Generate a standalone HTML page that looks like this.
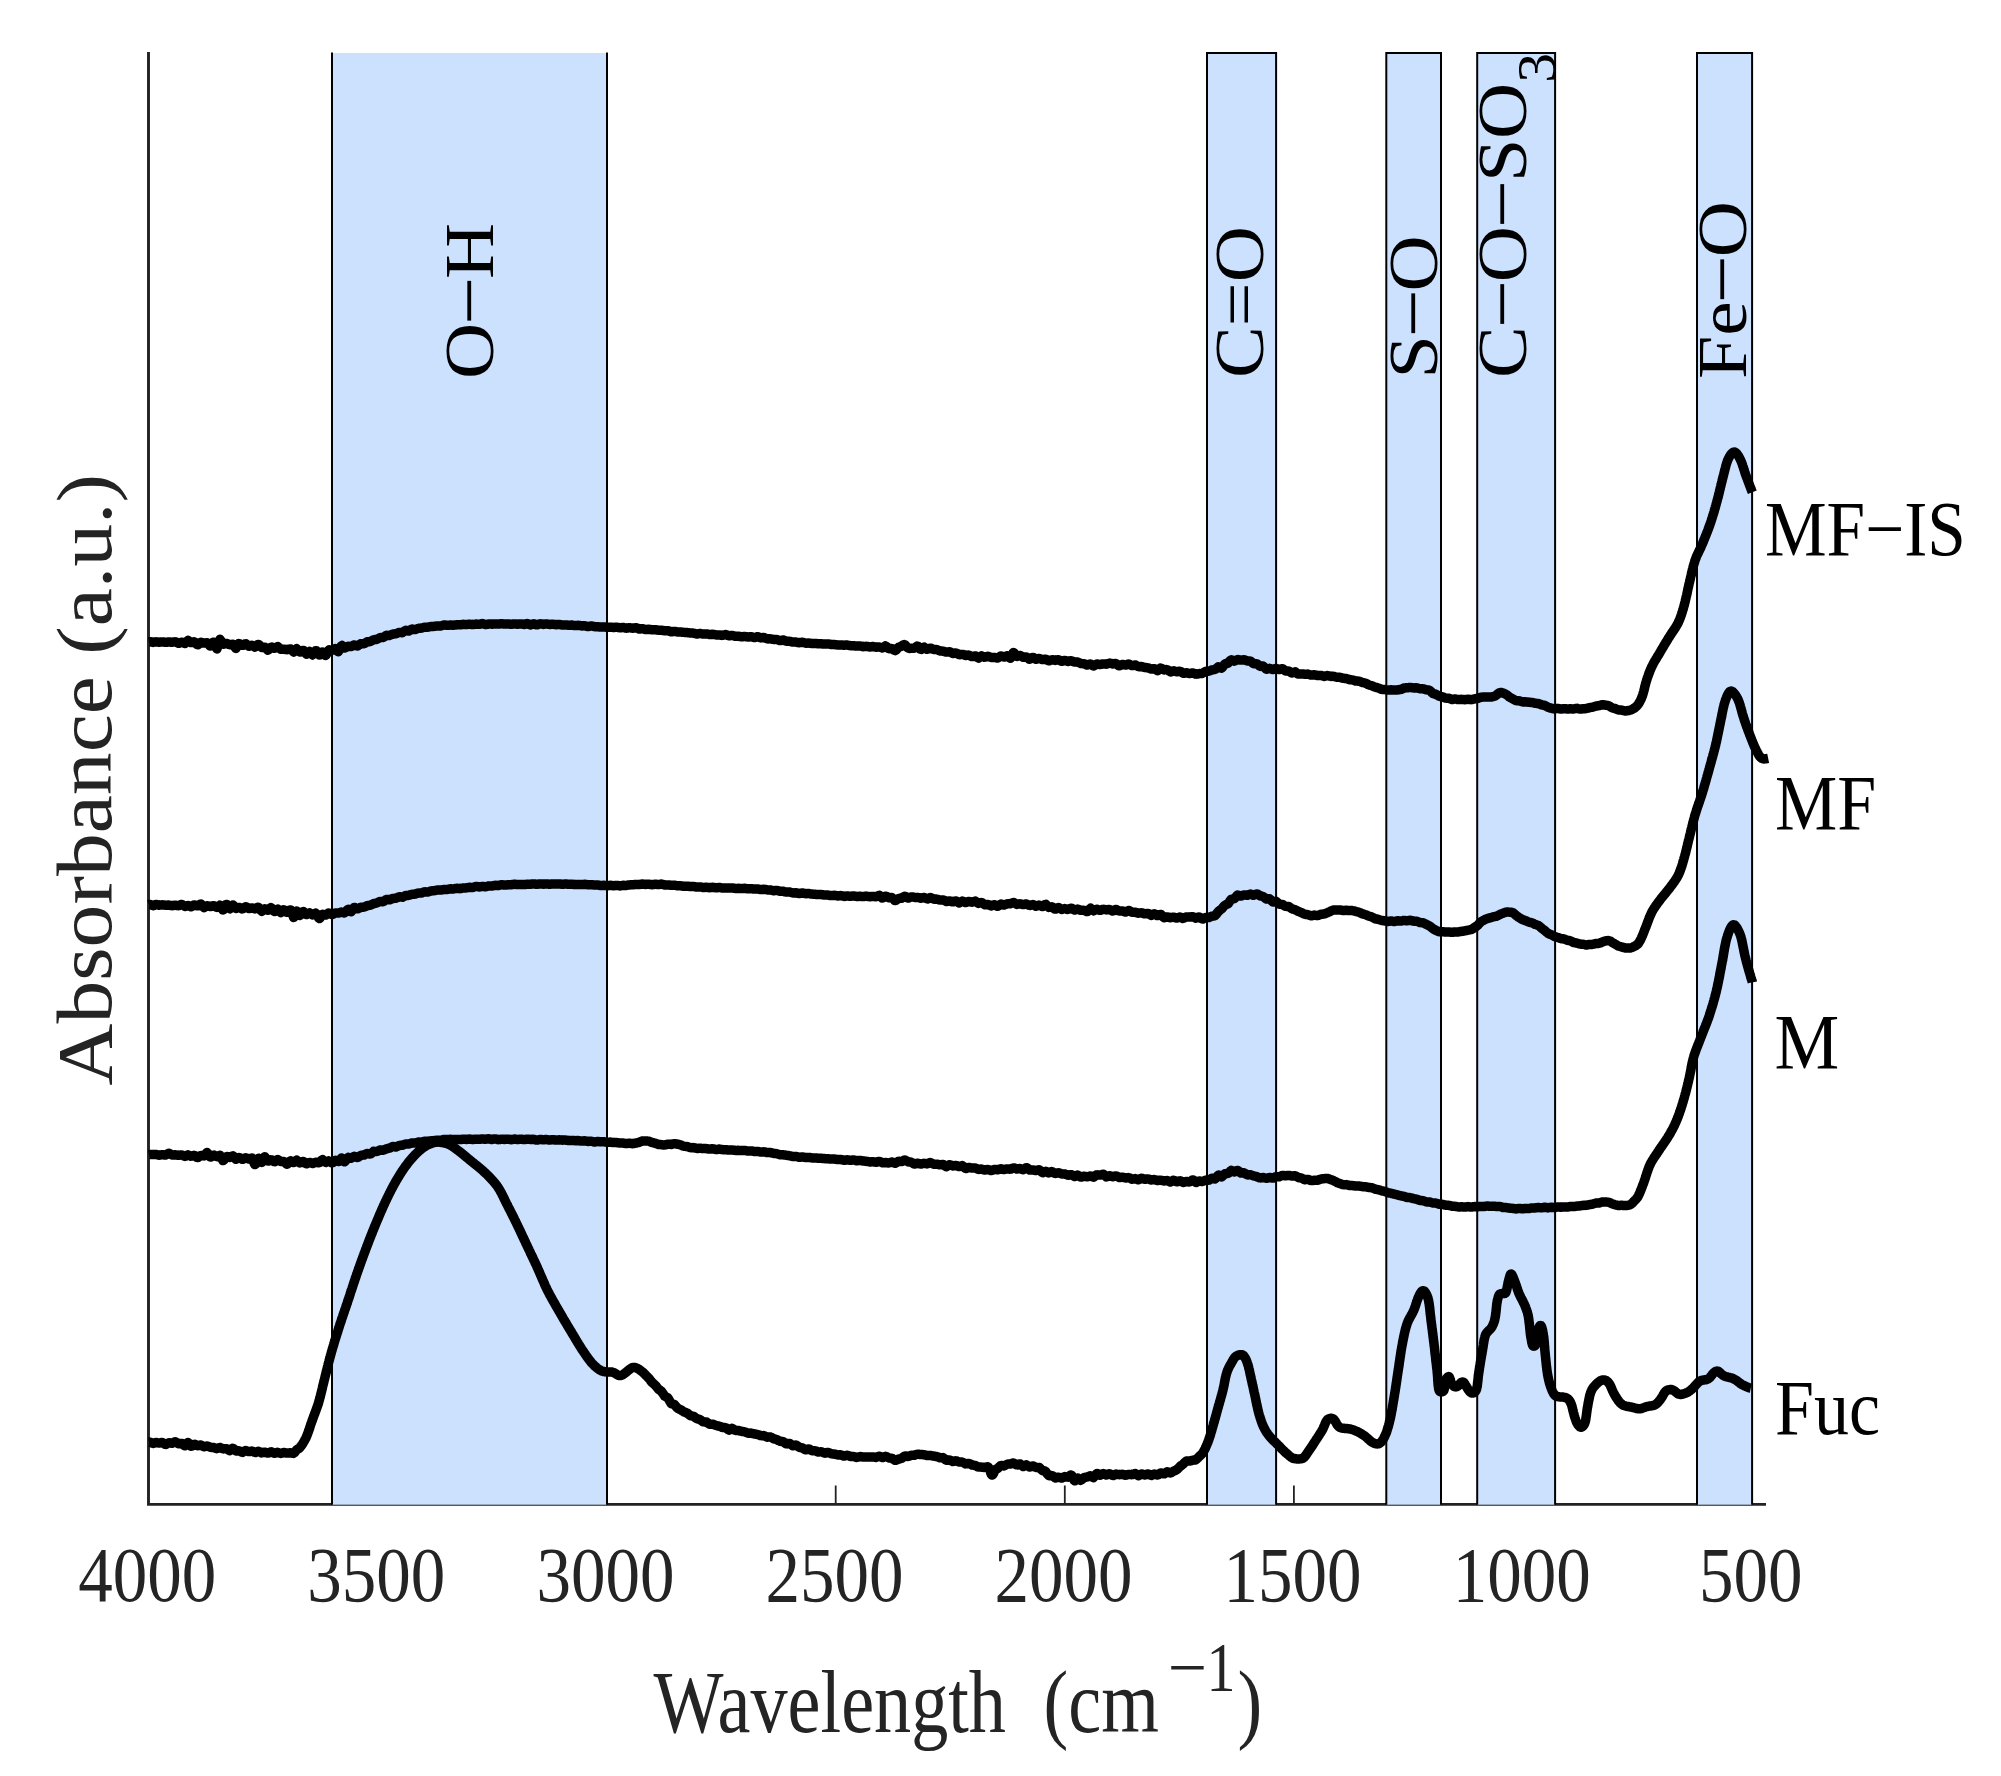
<!DOCTYPE html>
<html lang="en"><head><meta charset="utf-8"><title>FTIR spectra</title>
<style>html,body{margin:0;padding:0;background:#fff}svg{display:block}text{font-family:"Liberation Serif","Times New Roman",serif}</style></head><body>
<svg width="2001" height="1776" viewBox="0 0 2001 1776">
<rect width="2001" height="1776" fill="#fff"/>
<path d="M148.5 52V1504.4H1766" fill="none" stroke="#222" stroke-width="2.9" stroke-linejoin="miter"/>
<line x1="377.6" y1="1485.5" x2="377.6" y2="1504.4" stroke="#222" stroke-width="1.8"/>
<line x1="606.7" y1="1485.5" x2="606.7" y2="1504.4" stroke="#222" stroke-width="1.8"/>
<line x1="835.7" y1="1485.5" x2="835.7" y2="1504.4" stroke="#222" stroke-width="1.8"/>
<line x1="1064.8" y1="1485.5" x2="1064.8" y2="1504.4" stroke="#222" stroke-width="1.8"/>
<line x1="1293.9" y1="1485.5" x2="1293.9" y2="1504.4" stroke="#222" stroke-width="1.8"/>
<line x1="1523.0" y1="1485.5" x2="1523.0" y2="1504.4" stroke="#222" stroke-width="1.8"/>
<line x1="1752.1" y1="1485.5" x2="1752.1" y2="1504.4" stroke="#222" stroke-width="1.8"/>
<rect x="332.0" y="53" width="275.0" height="1451.7" fill="#cce1fe"/>
<path d="M332.0 1504.7V52.5M607.0 52.5V1504.7" fill="none" stroke="#000" stroke-width="2"/>
<rect x="1207.0" y="53" width="69.1" height="1451.7" fill="#cce1fe"/>
<path d="M1207.0 1504.7V53H1276.1V1504.7" fill="none" stroke="#000" stroke-width="2"/>
<rect x="1386.3" y="53" width="54.7" height="1451.7" fill="#cce1fe"/>
<path d="M1386.3 1504.7V53H1441.0V1504.7" fill="none" stroke="#000" stroke-width="2"/>
<rect x="1477.2" y="53" width="77.9" height="1451.7" fill="#cce1fe"/>
<path d="M1477.2 1504.7V53H1555.1V1504.7" fill="none" stroke="#000" stroke-width="2"/>
<rect x="1697.0" y="53" width="55.1" height="1451.7" fill="#cce1fe"/>
<path d="M1697.0 1504.7V53H1752.1V1504.7" fill="none" stroke="#000" stroke-width="2"/>
<g transform="scale(1 1.0)" fill="none" stroke="#000" stroke-width="9.5" stroke-linejoin="round" stroke-linecap="butt">
<path d="M148.9 641.8L149.4 641.7L150.1 641.7L151.0 641.9L152.0 642.2L153.0 642.4L154.0 642.2L155.0 642.0L156.0 641.8L157.0 642.0L158.0 642.1L159.0 642.2L160.0 642.2L161.0 642.0L162.0 641.9L163.0 641.9L164.0 642.1L165.0 642.2L166.0 642.3L167.0 642.2L168.0 642.1L169.0 642.0L170.0 642.1L171.0 642.2L172.0 642.2L173.0 642.1L174.0 642.0L175.0 641.8L176.0 642.0L177.0 642.5L178.0 643.2L179.0 643.3L180.0 642.9L181.0 642.4L182.0 642.2L183.0 642.6L184.0 643.1L185.0 643.4L186.0 642.5L187.0 641.5L188.0 640.4L189.0 641.1L190.0 641.8L191.0 642.5L192.0 642.4L193.0 642.1L194.0 641.8L195.0 642.4L196.0 643.4L197.0 644.5L198.0 644.8L199.0 643.9L200.0 642.9L201.0 642.2L202.0 642.5L203.0 642.8L204.0 643.1L205.0 643.0L206.0 642.9L207.0 642.7L208.0 643.6L209.0 644.8L210.0 646.0L211.0 645.6L212.0 643.9L213.0 642.3L214.0 642.2L215.0 644.8L216.0 647.3L217.0 648.9L218.0 645.7L219.0 642.5L220.0 639.3L221.0 640.8L222.0 642.5L223.0 644.2L224.0 644.2L225.0 643.8L226.0 643.4L227.0 643.5L228.0 644.0L229.0 644.5L230.0 644.8L231.0 644.5L232.0 644.3L233.0 644.3L233.9 645.6L234.9 647.0L235.9 648.4L236.9 646.9L237.9 645.3L238.9 643.6L239.9 643.8L240.9 644.5L241.9 645.3L242.9 645.3L243.9 644.6L244.9 644.0L245.9 643.8L246.9 644.7L247.9 645.5L248.9 646.3L249.9 645.9L250.9 645.6L251.9 645.2L252.9 645.8L253.9 646.4L254.9 647.1L255.9 646.6L256.9 645.6L257.8 644.5L258.8 644.5L259.8 645.6L260.8 646.6L261.8 647.5L262.8 647.4L263.8 647.3L264.8 647.2L265.8 648.2L266.8 649.2L267.8 650.2L268.8 649.5L269.8 648.4L270.8 647.3L271.8 647.1L272.8 647.7L273.8 648.2L274.8 648.3L275.8 647.7L276.8 647.0L277.7 646.6L278.7 647.5L279.7 648.3L280.7 649.2L281.7 649.2L282.7 649.2L283.7 649.2L284.7 649.3L285.7 649.5L286.7 649.7L287.7 649.6L288.7 649.3L289.7 649.0L290.7 649.0L291.7 650.0L292.7 651.0L293.7 651.9L294.7 650.9L295.7 649.8L296.6 648.8L297.6 649.6L298.6 650.8L299.6 651.9L300.6 651.9L301.6 651.2L302.6 650.4L303.6 650.5L304.6 651.9L305.6 653.2L306.6 654.1L307.6 653.3L308.6 652.4L309.6 651.6L310.5 652.6L311.5 653.8L312.5 654.9L313.5 654.1L314.5 652.5L315.5 650.8L316.5 650.8L317.5 652.5L318.5 654.1L319.5 655.1L320.4 654.1L321.4 653.1L322.4 652.1L323.4 653.3L324.4 654.5L325.4 655.6L326.4 654.4L327.3 652.5L328.3 650.6L329.3 649.8L330.3 650.0L331.3 650.2L332.3 650.2L333.2 649.6L334.2 649.1L335.2 648.6L336.2 649.7L337.2 650.7L338.2 651.8L339.1 650.4L340.1 648.3L341.1 646.1L342.1 645.5L343.1 646.5L344.1 647.5L345.0 648.0L346.0 647.4L347.0 646.8L348.0 646.2L348.9 646.4L349.9 646.5L350.9 646.6L351.9 646.2L352.8 645.6L353.8 645.1L354.8 645.0L355.8 645.5L356.7 645.8L357.7 645.9L358.7 645.2L359.6 644.5L360.6 643.8L361.5 643.7L362.5 643.8L363.5 643.8L364.4 643.5L365.4 643.0L366.4 642.4L367.3 641.8L368.3 641.7L369.2 641.7L370.2 641.6L371.2 641.1L372.1 640.6L373.1 640.1L374.0 639.7L375.0 639.6L376.0 639.5L376.9 639.3L377.9 638.8L378.8 638.3L379.8 637.7L380.8 637.6L381.7 637.6L382.7 637.5L383.6 637.2L384.6 636.6L385.5 635.9L386.5 635.3L387.5 635.4L388.4 635.4L389.4 635.4L390.3 635.1L391.3 634.7L392.2 634.3L393.2 634.0L394.2 633.9L395.1 633.8L396.1 633.7L397.0 633.3L398.0 632.9L399.0 632.5L399.9 632.5L400.9 632.6L401.9 632.7L402.8 632.4L403.8 631.6L404.8 630.8L405.8 630.2L406.7 630.5L407.7 630.8L408.7 631.1L409.7 630.5L410.7 629.8L411.6 629.2L412.6 629.1L413.6 629.3L414.6 629.5L415.6 629.4L416.5 629.0L417.5 628.7L418.5 628.3L419.5 628.3L420.5 628.2L421.5 628.1L422.5 627.8L423.5 627.5L424.4 627.2L425.4 627.2L426.4 627.2L427.4 627.2L428.4 627.1L429.4 626.9L430.4 626.7L431.4 626.5L432.4 626.5L433.4 626.4L434.4 626.3L435.4 626.2L436.4 626.1L437.4 625.9L438.3 625.9L439.3 626.0L440.3 626.0L441.3 625.8L442.3 625.5L443.3 625.1L444.3 624.9L445.3 625.1L446.3 625.2L447.3 625.3L448.3 625.2L449.3 625.2L450.3 625.1L451.3 625.1L452.3 625.2L453.3 625.2L454.3 625.1L455.3 625.0L456.3 624.8L457.3 624.8L458.3 624.8L459.3 624.8L460.3 624.8L461.3 624.7L462.3 624.5L463.3 624.3L464.3 624.4L465.3 624.4L466.3 624.5L467.3 624.4L468.3 624.3L469.3 624.2L470.3 624.3L471.3 624.4L472.3 624.6L473.3 624.6L474.3 624.4L475.3 624.2L476.3 624.1L477.3 624.2L478.3 624.3L479.3 624.3L480.3 624.1L481.3 623.8L482.3 623.5L483.3 623.8L484.3 624.2L485.3 624.5L486.3 624.4L487.3 624.3L488.3 624.1L489.3 624.0L490.3 624.1L491.3 624.1L492.3 624.2L493.3 624.1L494.3 624.0L495.3 624.0L496.3 624.0L497.3 624.0L498.3 624.1L499.3 624.0L500.3 623.8L501.3 623.7L502.3 623.8L503.3 623.9L504.3 624.0L505.3 624.0L506.3 624.0L507.3 624.0L508.3 624.0L509.3 624.1L510.3 624.2L511.3 624.3L512.3 624.1L513.3 624.0L514.3 623.9L515.3 624.0L516.3 624.1L517.3 624.2L518.3 624.2L519.3 624.0L520.3 623.9L521.3 623.9L522.3 624.1L523.3 624.3L524.3 624.4L525.3 624.1L526.3 623.8L527.3 623.5L528.3 624.0L529.3 624.5L530.3 624.9L531.3 624.6L532.3 624.2L533.3 623.8L534.3 624.0L535.3 624.4L536.3 624.8L537.3 624.8L538.3 624.4L539.3 624.0L540.3 623.7L541.3 624.0L542.3 624.2L543.3 624.4L544.3 624.2L545.3 624.1L546.3 624.0L547.3 624.1L548.3 624.2L549.3 624.4L550.3 624.4L551.3 624.3L552.3 624.3L553.3 624.3L554.3 624.4L555.3 624.6L556.3 624.7L557.3 624.6L558.3 624.6L559.3 624.5L560.3 624.7L561.3 624.8L562.3 625.0L563.3 625.0L564.3 625.0L565.3 624.9L566.3 625.0L567.3 625.1L568.3 625.2L569.3 625.2L570.3 625.2L571.3 625.1L572.3 625.1L573.3 625.3L574.3 625.5L575.3 625.6L576.3 625.5L577.3 625.4L578.3 625.3L579.3 625.5L580.3 625.6L581.3 625.8L582.3 625.9L583.3 625.8L584.3 625.8L585.3 625.9L586.3 626.2L587.3 626.5L588.3 626.6L589.3 626.4L590.3 626.2L591.3 626.0L592.3 626.2L593.3 626.4L594.3 626.6L595.3 626.7L596.3 626.7L597.3 626.7L598.2 626.8L599.2 626.9L600.2 627.0L601.2 627.1L602.2 627.0L603.2 627.0L604.2 627.0L605.2 627.1L606.2 627.2L607.2 627.2L608.2 627.2L609.2 627.2L610.2 627.2L611.2 627.3L612.2 627.3L613.2 627.4L614.2 627.4L615.2 627.3L616.2 627.2L617.2 627.2L618.2 627.5L619.2 627.7L620.2 627.8L621.2 627.7L622.2 627.6L623.2 627.5L624.2 627.7L625.2 628.0L626.2 628.2L627.2 628.1L628.2 627.9L629.2 627.7L630.2 627.7L631.2 628.0L632.2 628.2L633.2 628.2L634.2 628.0L635.2 627.8L636.2 627.7L637.2 628.1L638.2 628.6L639.2 629.0L640.2 628.9L641.2 628.8L642.2 628.7L643.2 628.9L644.2 629.2L645.2 629.5L646.2 629.6L647.2 629.4L648.2 629.3L649.2 629.3L650.2 629.5L651.2 629.7L652.2 629.8L653.2 629.8L654.2 629.7L655.2 629.7L656.2 629.8L657.1 630.0L658.1 630.2L659.1 630.2L660.1 630.2L661.1 630.2L662.1 630.3L663.1 630.5L664.1 630.7L665.1 630.8L666.1 630.8L667.1 630.7L668.1 630.7L669.1 631.1L670.1 631.4L671.1 631.8L672.1 631.7L673.1 631.6L674.1 631.4L675.1 631.5L676.1 631.7L677.1 631.9L678.1 632.0L679.1 632.0L680.1 632.0L681.1 632.1L682.1 632.2L683.1 632.3L684.0 632.4L685.0 632.5L686.0 632.5L687.0 632.6L688.0 632.7L689.0 632.8L690.0 632.9L691.0 633.0L692.0 633.0L693.0 633.1L694.0 633.3L695.0 633.5L696.0 633.8L697.0 634.0L698.0 633.8L699.0 633.6L700.0 633.4L701.0 633.6L702.0 633.8L703.0 634.0L704.0 634.1L705.0 634.0L706.0 634.0L707.0 634.0L708.0 634.2L709.0 634.4L710.0 634.5L711.0 634.4L712.0 634.3L713.0 634.3L714.0 634.5L715.0 634.7L716.0 634.9L717.0 634.9L718.0 634.9L719.0 634.9L720.0 635.1L721.0 635.2L722.0 635.4L722.9 635.3L723.9 635.0L724.9 634.7L725.9 634.6L726.9 635.0L727.9 635.5L728.9 635.8L729.9 635.7L730.9 635.6L731.9 635.4L732.9 635.7L733.9 635.9L734.9 636.2L735.9 636.2L736.9 636.2L737.9 636.2L738.9 636.3L739.9 636.5L740.9 636.7L741.9 636.8L742.9 636.7L743.9 636.6L744.9 636.6L745.9 636.7L746.9 636.8L747.9 636.9L748.9 636.9L749.9 636.8L750.9 636.7L751.9 636.9L752.9 637.2L753.9 637.5L754.9 637.5L755.9 637.2L756.9 636.8L757.9 636.7L758.9 637.1L759.9 637.5L760.9 637.9L761.8 637.8L762.8 637.6L763.8 637.5L764.8 637.9L765.8 638.3L766.8 638.7L767.8 638.9L768.8 638.8L769.8 638.8L770.8 638.9L771.8 639.1L772.8 639.3L773.8 639.4L774.8 639.4L775.8 639.4L776.7 639.4L777.7 639.8L778.7 640.2L779.7 640.6L780.7 640.5L781.7 640.3L782.7 640.0L783.7 640.1L784.7 640.5L785.7 641.0L786.7 641.3L787.7 641.3L788.7 641.3L789.6 641.3L790.6 641.5L791.6 641.8L792.6 642.0L793.6 642.1L794.6 642.1L795.6 642.1L796.6 642.2L797.6 642.5L798.6 642.7L799.6 642.7L800.6 642.5L801.6 642.3L802.6 642.2L803.6 642.5L804.6 642.8L805.6 643.2L806.6 643.2L807.5 643.1L808.5 643.1L809.5 643.2L810.5 643.3L811.5 643.4L812.5 643.5L813.5 643.4L814.5 643.4L815.5 643.4L816.5 643.6L817.5 643.7L818.5 643.8L819.5 643.8L820.5 643.8L821.5 643.8L822.5 643.9L823.5 644.0L824.5 644.1L825.5 644.1L826.5 644.0L827.5 643.9L828.5 644.0L829.5 644.2L830.5 644.4L831.5 644.6L832.5 644.6L833.5 644.6L834.5 644.6L835.5 644.7L836.5 644.8L837.5 644.9L838.5 644.9L839.5 644.9L840.5 644.9L841.5 645.0L842.5 645.1L843.5 645.2L844.5 645.2L845.5 645.1L846.5 645.1L847.5 645.1L848.5 645.3L849.5 645.5L850.5 645.7L851.5 645.7L852.5 645.7L853.5 645.7L854.5 645.8L855.5 646.0L856.5 646.1L857.5 646.1L858.5 646.0L859.5 645.9L860.5 646.0L861.5 646.3L862.5 646.6L863.5 646.7L864.5 646.5L865.5 646.4L866.5 646.3L867.5 646.5L868.5 646.7L869.5 647.0L870.5 646.9L871.5 646.7L872.5 646.6L873.5 646.6L874.5 646.8L875.5 647.1L876.5 647.2L877.5 647.1L878.5 647.1L879.5 647.1L880.5 647.3L881.5 647.6L882.4 647.9L883.4 647.3L884.4 646.6L885.4 645.9L886.4 646.4L887.4 647.4L888.4 648.4L889.4 648.7L890.4 648.6L891.4 648.6L892.4 648.9L893.4 649.6L894.3 650.2L895.3 650.6L896.2 649.9L897.1 649.0L897.9 647.9L898.7 647.2L899.5 646.9L900.4 646.5L901.2 646.3L901.9 645.9L902.7 645.2L903.5 644.8L904.3 644.6L905.1 644.9L905.9 645.9L906.7 646.8L907.5 647.7L908.4 648.2L909.3 648.4L910.2 648.4L911.1 648.3L912.1 648.3L913.1 648.3L914.1 648.3L915.1 647.7L916.1 646.9L917.2 646.1L918.2 646.5L919.2 647.7L920.2 649.0L921.2 649.4L922.2 648.5L923.2 647.7L924.2 647.1L925.2 647.9L926.1 648.6L927.1 649.3L928.1 649.0L929.1 648.6L930.1 648.2L931.1 648.3L932.1 648.8L933.0 649.2L934.0 649.5L935.0 649.5L936.0 649.6L937.0 649.7L938.0 650.1L938.9 650.5L939.9 650.9L940.9 651.0L941.9 651.1L942.9 651.2L943.9 651.4L944.9 651.7L945.8 652.0L946.8 652.1L947.8 652.0L948.8 651.8L949.8 651.8L950.8 652.3L951.8 652.9L952.8 653.5L953.8 653.3L954.7 653.1L955.7 653.0L956.7 653.3L957.7 653.9L958.7 654.5L959.7 654.7L960.7 654.6L961.7 654.4L962.7 654.4L963.7 654.7L964.7 655.1L965.7 655.4L966.7 655.3L967.6 655.2L968.6 655.1L969.6 655.5L970.6 656.1L971.6 656.6L972.6 656.6L973.6 656.3L974.6 655.9L975.6 656.0L976.6 656.8L977.6 657.6L978.6 658.1L979.6 657.4L980.6 656.7L981.6 655.9L982.6 656.3L983.5 656.7L984.5 657.2L985.5 657.0L986.5 656.7L987.5 656.3L988.5 656.4L989.5 656.8L990.5 657.2L991.5 657.5L992.5 657.5L993.5 657.4L994.5 657.4L995.5 657.6L996.5 657.8L997.5 658.0L998.5 657.5L999.5 656.8L1000.5 656.1L1001.5 656.1L1002.5 656.5L1003.5 656.9L1004.4 656.9L1005.4 656.4L1006.4 655.9L1007.4 655.8L1008.4 656.6L1009.4 657.5L1010.4 658.3L1011.4 656.3L1012.4 654.4L1013.4 652.4L1014.4 653.2L1015.4 654.6L1016.4 656.1L1017.4 656.4L1018.4 656.0L1019.4 655.6L1020.4 655.6L1021.4 656.2L1022.4 656.8L1023.3 657.3L1024.3 657.2L1025.3 657.0L1026.3 656.9L1027.3 657.6L1028.3 658.4L1029.3 659.2L1030.3 658.9L1031.3 658.2L1032.3 657.5L1033.3 657.5L1034.3 658.2L1035.3 658.9L1036.2 659.3L1037.2 659.0L1038.2 658.7L1039.2 658.4L1040.2 658.8L1041.2 659.2L1042.2 659.6L1043.2 659.5L1044.2 659.3L1045.2 659.2L1046.2 659.4L1047.2 660.0L1048.2 660.6L1049.2 660.8L1050.2 660.4L1051.2 660.0L1052.2 659.7L1053.2 659.9L1054.2 660.2L1055.2 660.4L1056.2 660.2L1057.2 659.9L1058.2 659.7L1059.2 660.1L1060.2 660.6L1061.2 661.2L1062.2 661.2L1063.2 660.9L1064.2 660.6L1065.2 660.5L1066.2 660.8L1067.1 661.2L1068.1 661.5L1069.1 661.2L1070.1 660.9L1071.1 660.7L1072.1 661.0L1073.1 661.5L1074.1 661.9L1075.0 662.1L1076.0 662.0L1077.0 662.0L1078.0 662.2L1079.0 662.7L1080.0 663.1L1081.0 663.5L1081.9 663.6L1082.9 663.7L1083.9 663.7L1084.9 664.1L1085.9 664.6L1086.9 665.0L1087.9 664.8L1088.9 664.5L1089.9 664.0L1090.8 664.1L1091.8 664.9L1092.8 665.6L1093.8 665.9L1094.8 665.3L1095.8 664.6L1096.8 664.0L1097.8 664.2L1098.8 664.4L1099.8 664.6L1100.8 664.4L1101.8 664.1L1102.8 663.9L1103.8 663.9L1104.8 664.0L1105.8 664.2L1106.8 664.1L1107.8 663.7L1108.8 663.3L1109.8 663.1L1110.8 663.3L1111.8 663.6L1112.8 663.9L1113.8 663.8L1114.8 663.6L1115.8 663.5L1116.8 664.1L1117.8 665.0L1118.8 665.8L1119.8 665.8L1120.8 665.2L1121.8 664.7L1122.8 664.5L1123.8 664.7L1124.8 664.9L1125.8 665.1L1126.7 664.7L1127.7 664.4L1128.7 664.0L1129.7 664.5L1130.7 665.1L1131.7 665.6L1132.7 665.6L1133.7 665.3L1134.7 665.0L1135.7 665.1L1136.7 665.7L1137.7 666.3L1138.7 666.7L1139.7 666.7L1140.7 666.6L1141.6 666.6L1142.6 666.9L1143.6 667.2L1144.6 667.5L1145.6 667.6L1146.6 667.7L1147.6 667.7L1148.6 668.0L1149.6 668.4L1150.6 668.8L1151.6 669.0L1152.6 668.9L1153.6 668.7L1154.6 668.7L1155.6 669.4L1156.5 670.0L1157.5 670.7L1158.5 669.9L1159.5 669.0L1160.5 668.1L1161.5 668.3L1162.5 669.0L1163.5 669.6L1164.5 669.9L1165.5 669.7L1166.5 669.6L1167.6 669.8L1168.6 670.5L1169.6 671.3L1170.6 671.9L1171.6 671.6L1172.6 671.2L1173.6 670.8L1174.6 671.1L1175.6 671.5L1176.6 671.8L1177.6 671.7L1178.6 671.4L1179.6 671.2L1180.6 671.5L1181.6 672.2L1182.6 672.9L1183.6 673.3L1184.6 673.1L1185.6 672.9L1186.6 672.8L1187.5 673.1L1188.5 673.3L1189.5 673.6L1190.5 673.4L1191.5 673.1L1192.5 672.9L1193.5 673.1L1194.4 673.6L1195.4 674.0L1196.4 674.2L1197.4 674.0L1198.3 673.8L1199.3 673.6L1200.3 673.6L1201.2 673.5L1202.2 673.4L1203.1 672.9L1204.1 672.3L1205.0 671.7L1206.0 671.2L1206.9 671.2L1207.9 671.2L1208.8 671.2L1209.8 670.8L1210.8 670.4L1211.7 670.0L1212.7 669.8L1213.7 669.6L1214.6 669.5L1215.6 669.0L1216.6 668.3L1217.5 667.5L1218.4 666.8L1219.4 667.3L1220.3 667.8L1221.2 668.2L1222.0 667.8L1222.9 666.7L1223.7 665.5L1224.6 664.3L1225.4 663.8L1226.2 663.5L1227.1 663.3L1227.9 663.2L1228.8 662.2L1229.6 661.2L1230.5 660.3L1231.4 659.8L1232.3 660.2L1233.2 660.6L1234.2 661.2L1235.2 660.8L1236.2 660.3L1237.2 659.7L1238.2 659.6L1239.2 659.8L1240.2 660.1L1241.2 660.1L1242.2 660.0L1243.2 659.8L1244.2 659.8L1245.2 660.1L1246.1 660.5L1247.1 660.9L1248.1 660.9L1249.0 661.0L1250.0 661.0L1250.9 661.5L1251.9 662.3L1252.8 663.1L1253.8 663.7L1254.7 663.7L1255.6 663.7L1256.6 663.7L1257.5 664.2L1258.4 665.0L1259.3 665.8L1260.2 666.4L1261.1 666.3L1262.0 666.2L1262.9 666.0L1263.8 666.7L1264.7 667.7L1265.7 668.7L1266.6 669.3L1267.6 669.0L1268.6 668.7L1269.6 668.3L1270.6 668.7L1271.6 669.1L1272.6 669.5L1273.6 669.3L1274.6 668.9L1275.6 668.5L1276.6 668.6L1277.6 669.0L1278.6 669.4L1279.6 669.5L1280.5 669.2L1281.5 668.9L1282.5 668.7L1283.5 669.4L1284.4 670.2L1285.4 670.9L1286.3 671.1L1287.3 671.1L1288.3 671.0L1289.2 671.3L1290.2 672.0L1291.2 672.6L1292.2 673.0L1293.1 672.6L1294.1 672.2L1295.1 671.8L1296.1 672.6L1297.1 673.3L1298.1 674.0L1299.1 674.1L1300.1 674.0L1301.0 673.9L1302.0 673.9L1303.0 674.0L1304.0 674.2L1305.0 674.2L1306.0 674.2L1307.0 674.2L1308.0 674.1L1309.0 674.5L1310.0 674.8L1311.0 675.1L1312.0 675.0L1313.0 674.9L1314.0 674.8L1315.0 674.9L1316.0 675.1L1317.0 675.4L1318.0 675.5L1319.0 675.4L1320.0 675.4L1321.0 675.4L1322.0 675.7L1323.0 676.0L1324.0 676.4L1325.0 676.1L1326.0 675.8L1327.0 675.6L1328.0 675.7L1329.0 676.0L1330.0 676.2L1330.9 676.4L1331.9 676.3L1332.9 676.3L1333.9 676.4L1334.9 676.7L1335.9 677.0L1336.9 677.3L1337.9 677.3L1338.9 677.3L1339.8 677.3L1340.8 677.6L1341.8 677.9L1342.8 678.2L1343.8 678.3L1344.8 678.4L1345.8 678.5L1346.7 678.7L1347.7 679.0L1348.7 679.4L1349.7 679.7L1350.7 679.8L1351.6 679.9L1352.6 680.0L1353.6 680.3L1354.6 680.6L1355.5 680.9L1356.5 681.0L1357.5 681.1L1358.5 681.2L1359.4 681.3L1360.4 681.7L1361.4 682.1L1362.3 682.5L1363.3 682.7L1364.3 682.9L1365.2 683.1L1366.2 683.5L1367.2 684.0L1368.1 684.5L1369.1 684.9L1370.0 685.2L1371.0 685.5L1371.9 685.8L1372.9 686.2L1373.8 686.6L1374.8 687.0L1375.7 687.3L1376.7 687.5L1377.6 687.8L1378.6 688.1L1379.5 688.5L1380.5 688.9L1381.4 689.3L1382.4 689.4L1383.4 689.5L1384.3 689.5L1385.3 689.7L1386.3 689.9L1387.3 690.0L1388.3 690.1L1389.2 690.0L1390.2 689.9L1391.2 689.8L1392.2 689.9L1393.2 689.9L1394.3 690.0L1395.3 690.0L1396.2 689.9L1397.2 689.9L1398.2 689.8L1399.2 689.7L1400.2 689.5L1401.2 689.3L1402.1 688.9L1403.1 688.4L1404.1 688.0L1405.1 687.9L1406.0 687.8L1407.0 687.8L1408.0 687.7L1409.0 687.6L1410.0 687.5L1411.0 687.6L1412.0 687.7L1413.0 687.8L1414.0 687.9L1415.0 687.9L1416.0 687.8L1417.0 687.9L1418.0 688.2L1419.0 688.5L1420.0 688.8L1421.0 688.8L1422.0 688.8L1422.9 688.8L1423.9 689.0L1424.9 689.3L1425.8 689.7L1426.7 689.9L1427.6 690.0L1428.6 690.1L1429.5 690.2L1430.4 691.0L1431.3 691.9L1432.1 692.8L1433.0 693.5L1433.9 693.8L1434.8 694.0L1435.7 694.2L1436.6 694.7L1437.5 695.3L1438.5 695.9L1439.4 696.4L1440.3 696.5L1441.3 696.7L1442.2 696.8L1443.2 697.1L1444.2 697.6L1445.1 698.0L1446.1 698.2L1447.1 698.2L1448.1 698.2L1449.1 698.3L1450.1 698.7L1451.1 699.2L1452.1 699.6L1453.0 699.4L1454.0 699.2L1455.0 699.0L1456.0 699.2L1457.0 699.4L1458.0 699.5L1459.0 699.6L1460.0 699.5L1461.0 699.3L1462.0 699.4L1463.0 699.5L1464.1 699.7L1465.1 699.7L1466.1 699.5L1467.1 699.4L1468.1 699.2L1469.1 699.4L1470.1 699.5L1471.0 699.7L1472.0 699.5L1473.0 699.3L1474.0 699.0L1475.0 698.8L1475.9 698.7L1476.9 698.5L1477.9 698.3L1478.8 697.9L1479.8 697.6L1480.8 697.3L1481.8 697.2L1482.8 697.1L1483.8 697.1L1484.8 697.0L1485.8 697.0L1486.8 697.0L1487.8 697.0L1488.8 697.0L1489.9 697.1L1490.8 697.0L1491.8 696.9L1492.7 696.7L1493.6 696.4L1494.5 696.2L1495.4 695.8L1496.2 695.3L1497.0 694.6L1497.8 693.9L1498.6 693.3L1499.4 692.8L1500.2 692.4L1501.0 692.4L1501.9 692.6L1502.7 692.9L1503.6 693.3L1504.4 693.6L1505.3 694.0L1506.1 694.4L1507.0 695.0L1507.9 695.7L1508.7 696.5L1509.6 697.2L1510.5 697.7L1511.4 698.2L1512.3 698.7L1513.2 699.2L1514.1 699.7L1515.0 700.2L1516.0 700.6L1516.9 700.7L1517.9 700.7L1518.8 700.8L1519.8 701.0L1520.8 701.3L1521.8 701.7L1522.7 701.9L1523.7 701.9L1524.7 701.8L1525.7 701.8L1526.8 702.0L1527.8 702.1L1528.8 702.3L1529.8 702.3L1530.8 702.4L1531.8 702.4L1532.8 702.7L1533.8 702.9L1534.8 703.2L1535.8 703.3L1536.8 703.4L1537.8 703.5L1538.8 703.7L1539.7 704.1L1540.7 704.4L1541.6 704.8L1542.6 705.0L1543.5 705.1L1544.5 705.4L1545.4 705.8L1546.4 706.3L1547.3 706.9L1548.2 707.4L1549.2 707.6L1550.1 707.9L1551.1 708.0L1552.0 708.4L1553.0 708.7L1554.0 708.9L1554.9 708.9L1555.9 708.7L1556.9 708.5L1557.9 708.4L1558.9 708.6L1559.9 708.9L1560.9 709.1L1561.9 708.9L1562.9 708.8L1563.9 708.7L1564.9 708.8L1565.9 708.8L1566.9 708.9L1567.9 708.9L1568.9 708.9L1569.9 708.8L1570.9 708.8L1572.0 708.9L1573.0 708.9L1574.0 708.9L1575.0 708.7L1576.0 708.5L1577.0 708.3L1578.0 708.6L1579.0 708.8L1580.0 709.1L1581.0 709.0L1582.0 708.9L1583.0 708.7L1583.9 708.7L1584.9 708.7L1585.9 708.6L1586.9 708.4L1587.8 708.2L1588.8 707.9L1589.8 707.6L1590.8 707.4L1591.7 707.3L1592.7 707.1L1593.7 706.8L1594.6 706.5L1595.6 706.2L1596.6 706.0L1597.6 705.8L1598.6 705.7L1599.6 705.5L1600.6 705.2L1601.6 704.9L1602.6 704.7L1603.6 704.8L1604.5 705.0L1605.5 705.2L1606.5 705.3L1607.4 705.4L1608.4 705.6L1609.3 706.0L1610.2 706.6L1611.2 707.2L1612.1 707.8L1613.0 708.1L1614.0 708.3L1614.9 708.5L1615.9 708.9L1616.9 709.3L1617.8 709.7L1618.8 710.0L1619.8 710.0L1620.8 710.1L1621.8 710.2L1622.8 710.4L1623.7 710.7L1624.7 710.9L1625.7 710.9L1626.7 710.8L1627.7 710.7L1628.7 710.5L1629.6 710.3L1630.6 710.0L1631.6 709.6L1632.5 709.1L1633.4 708.6L1634.2 708.1L1635.0 707.6L1635.7 707.0L1636.4 706.4L1637.1 705.7L1637.7 705.0L1638.3 704.2L1638.9 703.3L1639.4 702.4L1639.9 701.5L1640.4 700.5L1640.8 699.6L1641.3 698.7L1641.6 697.8L1642.0 696.8L1642.4 695.9L1642.7 695.0L1643.0 694.0L1643.2 693.1L1643.5 692.1L1643.8 691.1L1644.0 690.2L1644.3 689.2L1644.5 688.2L1644.7 687.2L1645.0 686.2L1645.2 685.2L1645.5 684.3L1645.7 683.3L1646.0 682.3L1646.3 681.4L1646.6 680.4L1646.9 679.5L1647.2 678.5L1647.5 677.6L1647.9 676.6L1648.2 675.7L1648.5 674.7L1648.9 673.8L1649.2 672.8L1649.6 671.9L1649.9 671.0L1650.3 670.0L1650.7 669.1L1651.1 668.2L1651.5 667.3L1651.9 666.4L1652.4 665.5L1652.8 664.6L1653.3 663.7L1653.7 662.9L1654.2 662.0L1654.7 661.1L1655.2 660.3L1655.8 659.4L1656.3 658.5L1656.8 657.7L1657.3 656.8L1657.8 656.0L1658.4 655.1L1658.9 654.2L1659.4 653.4L1659.9 652.5L1660.4 651.7L1660.9 650.8L1661.4 649.9L1661.9 649.1L1662.4 648.2L1662.9 647.4L1663.5 646.5L1664.0 645.6L1664.5 644.8L1665.0 643.9L1665.5 643.1L1666.0 642.2L1666.6 641.4L1667.1 640.5L1667.6 639.7L1668.1 638.8L1668.6 637.9L1669.2 637.1L1669.7 636.2L1670.2 635.4L1670.8 634.6L1671.3 633.7L1671.9 632.9L1672.5 632.0L1673.0 631.2L1673.6 630.4L1674.2 629.5L1674.7 628.7L1675.3 627.9L1675.8 627.0L1676.3 626.2L1676.8 625.3L1677.3 624.4L1677.8 623.6L1678.2 622.7L1678.6 621.8L1679.0 620.9L1679.4 620.0L1679.8 619.1L1680.2 618.1L1680.5 617.2L1680.8 616.3L1681.2 615.3L1681.5 614.4L1681.8 613.4L1682.1 612.5L1682.4 611.5L1682.7 610.5L1683.0 609.6L1683.3 608.6L1683.5 607.6L1683.8 606.7L1684.1 605.7L1684.3 604.7L1684.6 603.8L1684.8 602.8L1685.1 601.8L1685.3 600.9L1685.5 599.9L1685.8 598.9L1686.0 597.9L1686.2 597.0L1686.4 596.0L1686.7 595.0L1686.9 594.0L1687.1 593.1L1687.3 592.1L1687.5 591.1L1687.7 590.1L1687.9 589.1L1688.1 588.2L1688.4 587.2L1688.6 586.2L1688.8 585.2L1689.0 584.3L1689.2 583.3L1689.5 582.3L1689.7 581.3L1689.9 580.4L1690.2 579.4L1690.4 578.4L1690.6 577.4L1690.8 576.5L1691.1 575.5L1691.3 574.5L1691.5 573.5L1691.7 572.5L1692.0 571.6L1692.2 570.6L1692.4 569.6L1692.7 568.6L1692.9 567.7L1693.2 566.7L1693.5 565.7L1693.7 564.8L1694.0 563.8L1694.3 562.9L1694.6 561.9L1694.9 561.0L1695.2 560.0L1695.5 559.1L1695.9 558.2L1696.2 557.3L1696.6 556.3L1697.0 555.4L1697.4 554.5L1697.9 553.6L1698.3 552.7L1698.7 551.8L1699.2 550.9L1699.6 550.0L1700.0 549.1L1700.5 548.2L1700.9 547.3L1701.3 546.3L1701.7 545.4L1702.1 544.5L1702.5 543.6L1702.9 542.7L1703.3 541.7L1703.6 540.8L1704.0 539.9L1704.4 539.0L1704.8 538.0L1705.1 537.1L1705.5 536.2L1705.9 535.2L1706.3 534.3L1706.6 533.4L1707.0 532.5L1707.4 531.5L1707.7 530.6L1708.1 529.7L1708.4 528.7L1708.8 527.8L1709.1 526.8L1709.5 525.9L1709.8 525.0L1710.1 524.0L1710.5 523.1L1710.8 522.1L1711.1 521.2L1711.4 520.2L1711.7 519.3L1712.0 518.3L1712.3 517.4L1712.6 516.4L1712.9 515.5L1713.2 514.5L1713.5 513.6L1713.8 512.6L1714.1 511.6L1714.3 510.7L1714.6 509.7L1714.9 508.8L1715.2 507.8L1715.4 506.8L1715.7 505.9L1716.0 504.9L1716.2 503.9L1716.5 503.0L1716.8 502.0L1717.0 501.0L1717.3 500.1L1717.5 499.1L1717.8 498.1L1718.1 497.2L1718.3 496.2L1718.6 495.2L1718.8 494.3L1719.0 493.3L1719.3 492.3L1719.5 491.4L1719.7 490.4L1720.0 489.4L1720.2 488.4L1720.4 487.5L1720.7 486.5L1720.9 485.5L1721.1 484.5L1721.4 483.6L1721.6 482.6L1721.9 481.6L1722.1 480.7L1722.3 479.7L1722.6 478.7L1722.8 477.7L1723.1 476.8L1723.3 475.8L1723.6 474.8L1723.8 473.9L1724.1 472.9L1724.3 471.9L1724.6 470.9L1724.8 469.9L1725.1 468.9L1725.3 468.0L1725.6 467.0L1725.8 466.0L1726.1 465.0L1726.4 464.0L1726.7 463.1L1727.0 462.2L1727.3 461.2L1727.7 460.3L1728.1 459.4L1728.5 458.5L1729.0 457.5L1729.5 456.6L1730.1 455.6L1730.7 454.7L1731.4 453.9L1732.1 453.1L1732.7 452.6L1733.4 452.2L1734.1 452.1L1734.8 452.1L1735.5 452.5L1736.1 453.0L1736.8 453.7L1737.4 454.5L1738.1 455.4L1738.7 456.4L1739.2 457.3L1739.7 458.3L1740.2 459.2L1740.6 460.1L1741.0 461.0L1741.4 461.9L1741.8 462.9L1742.1 463.8L1742.4 464.7L1742.7 465.7L1743.1 466.7L1743.4 467.6L1743.7 468.6L1744.0 469.6L1744.3 470.5L1744.6 471.5L1744.9 472.5L1745.2 473.4L1745.5 474.4L1745.9 475.3L1746.2 476.2L1746.6 477.2L1746.9 478.1L1747.3 479.1L1747.6 480.0L1748.0 480.9L1748.3 481.9L1748.7 482.8L1749.0 483.7L1749.4 484.7L1749.7 485.6L1750.1 486.5L1750.5 487.5L1750.8 488.4L1751.2 489.3L1751.5 490.3L1751.8 491.1L1752.1 491.7L1752.3 492.2"/>
<path d="M148.9 904.6L149.4 904.4L150.1 904.5L151.0 904.8L152.0 905.3L153.0 905.7L154.0 905.4L155.0 904.9L156.0 904.5L157.0 904.7L158.0 904.9L159.0 905.2L160.0 905.1L161.0 905.0L162.0 904.8L163.0 904.9L164.0 905.0L165.0 905.2L166.0 905.2L167.0 905.2L168.0 905.1L169.0 905.1L170.0 905.3L171.0 905.5L172.0 905.7L173.0 905.6L174.0 905.4L175.0 905.2L176.0 905.3L177.0 905.5L178.0 905.7L179.0 905.6L180.0 905.2L181.0 904.6L182.0 904.5L183.0 905.1L184.0 905.8L185.0 906.4L186.0 906.1L187.0 905.8L188.0 905.5L189.0 905.9L190.0 906.4L191.0 906.8L192.0 906.4L193.0 905.7L194.0 905.0L195.0 904.9L196.0 905.4L197.0 905.8L198.0 905.8L199.0 905.1L200.0 904.4L201.0 904.1L202.0 905.3L203.0 906.5L204.0 907.6L205.0 907.0L206.0 906.4L207.0 905.8L208.0 905.9L209.0 906.2L210.0 906.5L211.0 906.4L212.0 906.1L213.0 905.7L214.0 905.7L215.0 906.4L216.0 907.0L217.0 907.4L218.0 906.6L219.0 905.9L220.0 905.1L221.0 906.7L222.0 908.3L223.0 910.0L224.0 908.7L225.0 906.6L226.0 904.5L227.0 904.6L228.0 906.4L229.0 908.3L230.0 908.8L231.0 907.4L232.0 906.0L233.0 905.0L234.0 906.1L235.0 907.3L236.0 908.4L237.0 908.1L238.0 907.7L239.0 907.4L240.0 907.7L241.0 908.3L242.0 908.9L242.9 908.7L243.9 907.9L244.9 907.1L245.9 906.7L246.9 907.4L247.9 908.0L248.9 908.5L249.9 908.3L250.9 908.1L251.9 907.9L252.9 908.2L253.9 908.5L254.9 908.9L255.9 908.5L256.9 907.9L257.9 907.2L258.9 907.6L259.9 909.0L260.9 910.4L261.9 911.2L262.9 910.3L263.9 909.5L264.9 908.8L265.9 909.3L266.9 909.8L267.9 910.3L268.9 909.5L269.8 908.6L270.8 907.6L271.8 908.2L272.8 909.6L273.8 911.1L274.8 911.5L275.8 910.6L276.8 909.7L277.8 909.1L278.8 910.3L279.8 911.5L280.8 912.6L281.8 911.8L282.7 910.8L283.7 909.8L284.7 910.3L285.7 911.3L286.7 912.3L287.7 912.3L288.7 911.1L289.7 910.0L290.7 910.0L291.7 912.6L292.7 915.2L293.7 917.5L294.7 915.4L295.7 913.2L296.7 911.1L297.7 912.2L298.7 913.8L299.7 915.3L300.6 914.9L301.6 913.4L302.6 911.9L303.6 911.6L304.6 912.7L305.6 913.8L306.6 914.5L307.6 914.0L308.6 913.4L309.6 912.8L310.6 913.5L311.6 914.2L312.6 914.9L313.6 914.5L314.6 913.8L315.6 913.2L316.6 914.0L317.6 915.9L318.6 917.8L319.6 918.5L320.6 917.0L321.6 915.5L322.6 914.3L323.6 914.6L324.6 914.8L325.6 915.1L326.6 914.5L327.6 913.8L328.5 913.1L329.5 913.4L330.5 913.9L331.5 914.5L332.5 914.4L333.5 913.9L334.5 913.3L335.5 912.9L336.5 913.0L337.5 913.0L338.5 913.1L339.5 912.7L340.4 912.4L341.4 912.1L342.4 912.3L343.4 912.6L344.3 912.9L345.3 912.3L346.3 911.0L347.3 909.9L348.2 909.4L349.2 910.3L350.2 911.2L351.1 911.8L352.1 910.3L353.1 908.8L354.0 907.6L355.0 907.6L356.0 908.3L356.9 908.7L357.9 908.8L358.9 908.3L359.8 907.8L360.8 907.3L361.8 907.3L362.7 907.2L363.7 907.2L364.7 906.8L365.6 906.4L366.6 905.9L367.6 905.6L368.5 905.4L369.5 905.3L370.5 905.1L371.4 904.7L372.4 904.2L373.4 903.7L374.3 903.5L375.3 903.3L376.3 903.1L377.2 902.8L378.2 902.3L379.2 901.8L380.1 901.4L381.1 901.5L382.0 901.7L383.0 901.8L384.0 901.2L384.9 900.5L385.9 899.7L386.9 899.4L387.9 899.5L388.8 899.7L389.8 899.8L390.8 899.4L391.7 898.9L392.7 898.5L393.7 898.4L394.6 898.3L395.6 898.3L396.6 897.9L397.6 897.5L398.5 897.0L399.5 896.7L400.5 896.8L401.4 897.0L402.4 897.2L403.4 896.7L404.4 896.2L405.3 895.7L406.3 895.5L407.3 895.5L408.3 895.4L409.2 895.2L410.2 894.9L411.2 894.5L412.2 894.2L413.2 894.2L414.1 894.2L415.1 894.1L416.1 893.8L417.1 893.4L418.1 893.1L419.0 893.0L420.0 893.0L421.0 893.0L422.0 892.8L423.0 892.4L424.0 892.0L425.0 891.8L426.0 891.9L427.0 891.9L427.9 892.0L428.9 891.7L429.9 891.3L430.9 891.0L431.9 890.8L432.9 890.8L433.9 890.7L434.9 890.6L435.9 890.4L436.9 890.2L437.9 890.0L438.9 890.0L439.8 890.0L440.8 890.0L441.8 889.9L442.8 889.7L443.8 889.6L444.8 889.5L445.8 889.5L446.8 889.5L447.8 889.3L448.8 889.1L449.8 888.9L450.8 888.8L451.8 888.9L452.8 888.9L453.8 888.9L454.8 888.7L455.8 888.5L456.8 888.2L457.8 888.4L458.8 888.5L459.8 888.7L460.8 888.5L461.8 888.3L462.8 888.0L463.8 887.9L464.8 887.9L465.7 887.9L466.7 887.8L467.7 887.6L468.7 887.4L469.7 887.3L470.7 887.4L471.7 887.4L472.7 887.5L473.7 887.2L474.7 886.8L475.7 886.5L476.7 886.5L477.7 886.7L478.7 886.9L479.7 886.9L480.7 886.7L481.7 886.6L482.7 886.5L483.7 886.6L484.7 886.7L485.7 886.8L486.7 886.5L487.7 886.2L488.7 885.9L489.7 885.9L490.7 886.0L491.7 886.0L492.7 885.9L493.7 885.7L494.7 885.4L495.7 885.3L496.7 885.4L497.7 885.4L498.7 885.4L499.7 885.1L500.7 884.9L501.7 884.7L502.7 884.8L503.7 885.0L504.7 885.1L505.7 885.0L506.7 884.9L507.7 884.8L508.6 884.7L509.6 884.8L510.6 884.8L511.6 884.7L512.6 884.5L513.6 884.3L514.6 884.2L515.6 884.3L516.6 884.5L517.6 884.6L518.6 884.6L519.6 884.5L520.6 884.4L521.6 884.4L522.6 884.5L523.6 884.5L524.6 884.5L525.6 884.4L526.6 884.3L527.6 884.2L528.6 884.2L529.6 884.2L530.6 884.2L531.6 884.1L532.6 884.0L533.6 883.9L534.6 884.0L535.6 884.2L536.6 884.3L537.6 884.2L538.6 884.1L539.6 883.9L540.6 884.0L541.6 884.0L542.6 884.1L543.6 884.2L544.6 884.1L545.6 884.0L546.6 883.9L547.6 884.0L548.6 884.2L549.6 884.3L550.6 884.2L551.6 884.0L552.6 883.9L553.6 883.9L554.6 884.0L555.6 884.0L556.6 884.0L557.6 884.0L558.6 883.9L559.6 883.9L560.6 884.1L561.6 884.2L562.6 884.3L563.6 884.2L564.6 884.1L565.6 884.0L566.6 884.1L567.6 884.2L568.6 884.2L569.6 884.2L570.6 884.2L571.6 884.2L572.6 884.3L573.6 884.4L574.6 884.6L575.6 884.6L576.6 884.5L577.6 884.4L578.6 884.4L579.6 884.4L580.6 884.5L581.6 884.5L582.6 884.4L583.6 884.4L584.6 884.3L585.6 884.4L586.6 884.6L587.6 884.7L588.6 884.8L589.6 884.7L590.6 884.7L591.6 884.7L592.6 884.8L593.6 884.9L594.6 885.0L595.6 885.0L596.6 885.0L597.6 885.0L598.6 885.2L599.6 885.3L600.6 885.5L601.6 885.5L602.6 885.4L603.6 885.3L604.6 885.4L605.6 885.5L606.6 885.7L607.6 885.7L608.6 885.6L609.6 885.4L610.6 885.3L611.6 885.4L612.6 885.6L613.6 885.8L614.6 885.6L615.6 885.5L616.6 885.4L617.6 885.5L618.6 885.7L619.6 885.9L620.6 885.8L621.6 885.6L622.6 885.4L623.6 885.3L624.6 885.4L625.6 885.4L626.6 885.4L627.6 885.2L628.6 885.0L629.6 884.9L630.6 884.8L631.6 884.8L632.6 884.8L633.6 884.7L634.6 884.6L635.6 884.5L636.6 884.4L637.6 884.4L638.6 884.4L639.6 884.4L640.6 884.3L641.6 884.1L642.6 884.1L643.6 884.2L644.6 884.3L645.6 884.4L646.6 884.3L647.6 884.3L648.6 884.2L649.6 884.3L650.6 884.5L651.6 884.7L652.6 884.7L653.6 884.5L654.6 884.3L655.6 884.2L656.6 884.3L657.6 884.5L658.6 884.5L659.6 884.4L660.6 884.2L661.6 884.1L662.5 884.3L663.5 884.6L664.5 884.9L665.5 885.0L666.5 885.0L667.5 885.0L668.5 885.0L669.5 885.1L670.5 885.2L671.5 885.2L672.5 885.2L673.5 885.2L674.5 885.2L675.5 885.4L676.5 885.6L677.5 885.8L678.5 885.8L679.5 885.8L680.5 885.8L681.5 885.9L682.5 886.1L683.5 886.3L684.5 886.3L685.5 886.3L686.5 886.2L687.5 886.2L688.5 886.3L689.5 886.4L690.5 886.5L691.5 886.5L692.5 886.5L693.5 886.5L694.5 886.7L695.5 886.8L696.5 887.0L697.5 887.0L698.5 887.0L699.5 886.9L700.5 887.0L701.5 887.2L702.5 887.4L703.5 887.5L704.5 887.4L705.5 887.3L706.5 887.3L707.5 887.4L708.5 887.6L709.5 887.7L710.5 887.6L711.5 887.4L712.5 887.3L713.5 887.4L714.5 887.6L715.5 887.7L716.5 887.8L717.5 887.7L718.5 887.6L719.5 887.5L720.5 887.7L721.5 887.9L722.5 888.0L723.5 888.0L724.5 888.0L725.5 887.9L726.5 888.0L727.5 888.0L728.5 888.1L729.5 888.1L730.5 888.0L731.5 888.0L732.5 888.0L733.5 888.2L734.5 888.3L735.5 888.4L736.5 888.4L737.5 888.4L738.5 888.3L739.5 888.4L740.5 888.5L741.5 888.6L742.5 888.5L743.5 888.4L744.5 888.3L745.5 888.4L746.5 888.6L747.5 888.8L748.5 888.8L749.5 888.8L750.5 888.7L751.5 888.7L752.5 888.8L753.5 889.0L754.5 889.1L755.5 889.1L756.5 889.1L757.5 889.0L758.5 889.2L759.5 889.3L760.5 889.5L761.5 889.5L762.5 889.4L763.4 889.3L764.4 889.3L765.4 889.5L766.4 889.7L767.4 889.9L768.4 889.9L769.4 889.9L770.4 889.9L771.4 890.2L772.4 890.5L773.4 890.8L774.4 890.7L775.4 890.5L776.4 890.4L777.4 890.5L778.4 890.8L779.4 891.1L780.4 891.3L781.4 891.3L782.4 891.3L783.4 891.3L784.3 891.6L785.3 891.9L786.3 892.1L787.3 892.1L788.3 892.0L789.3 892.0L790.3 892.2L791.3 892.5L792.3 892.8L793.3 892.9L794.3 892.9L795.3 892.8L796.3 892.8L797.3 893.1L798.3 893.4L799.3 893.6L800.3 893.4L801.3 893.1L802.3 892.9L803.3 893.1L804.3 893.3L805.3 893.6L806.3 893.7L807.2 893.6L808.2 893.6L809.2 893.6L810.2 893.8L811.2 894.0L812.2 894.1L813.2 894.2L814.2 894.2L815.2 894.3L816.2 894.4L817.2 894.5L818.2 894.6L819.2 894.6L820.2 894.6L821.2 894.6L822.2 894.7L823.2 894.8L824.2 895.0L825.2 895.1L826.2 895.1L827.2 895.1L828.2 895.1L829.2 895.3L830.2 895.5L831.2 895.6L832.2 895.5L833.2 895.4L834.2 895.3L835.2 895.4L836.2 895.7L837.2 895.9L838.2 895.9L839.2 895.8L840.2 895.6L841.2 895.7L842.2 895.9L843.2 896.2L844.2 896.4L845.2 896.3L846.2 896.1L847.2 896.0L848.2 896.1L849.2 896.2L850.2 896.3L851.2 896.2L852.2 896.1L853.2 896.0L854.2 896.1L855.2 896.2L856.2 896.4L857.2 896.4L858.2 896.4L859.2 896.3L860.2 896.3L861.2 896.4L862.2 896.5L863.2 896.6L864.2 896.4L865.2 896.3L866.2 896.1L867.3 896.3L868.3 896.5L869.3 896.7L870.3 896.7L871.3 896.6L872.3 896.5L873.3 896.5L874.3 896.6L875.3 896.7L876.3 896.7L877.3 896.3L878.3 895.8L879.3 895.3L880.3 896.1L881.3 897.0L882.2 898.0L883.2 897.7L884.2 897.0L885.2 896.3L886.2 896.3L887.2 896.8L888.1 897.4L889.1 897.8L890.1 897.7L891.1 897.6L892.0 897.6L893.0 898.7L894.0 899.7L894.9 900.6L895.9 900.4L896.9 899.7L897.8 898.9L898.8 898.4L899.7 898.3L900.7 898.2L901.7 898.2L902.6 897.4L903.6 896.8L904.6 896.2L905.6 896.5L906.5 897.2L907.5 897.9L908.5 898.0L909.5 897.6L910.5 897.1L911.5 896.9L912.5 897.0L913.5 897.2L914.5 897.4L915.5 897.4L916.5 897.4L917.5 897.4L918.5 897.7L919.5 897.9L920.6 898.2L921.6 898.1L922.6 897.8L923.6 897.5L924.6 897.7L925.6 898.2L926.5 898.7L927.5 898.9L928.5 898.4L929.5 897.8L930.5 897.5L931.5 898.0L932.5 898.6L933.5 899.1L934.5 899.2L935.5 899.1L936.5 899.1L937.5 899.3L938.4 899.6L939.4 899.9L940.4 900.1L941.4 900.1L942.4 900.0L943.4 900.1L944.4 900.6L945.4 901.1L946.4 901.6L947.4 901.4L948.4 901.1L949.4 900.9L950.4 901.1L951.4 901.4L952.3 901.8L953.3 901.8L954.3 901.4L955.3 901.1L956.3 901.1L957.3 901.7L958.3 902.4L959.3 902.9L960.3 902.3L961.4 901.7L962.4 901.1L963.4 901.5L964.4 902.0L965.4 902.5L966.4 902.3L967.4 901.9L968.4 901.5L969.4 901.5L970.3 901.8L971.3 902.1L972.3 902.2L973.3 901.8L974.3 901.3L975.3 901.1L976.3 901.8L977.3 902.6L978.3 903.4L979.3 903.2L980.2 902.9L981.2 902.6L982.2 902.9L983.2 903.6L984.2 904.4L985.1 904.8L986.1 904.7L987.1 904.6L988.1 904.5L989.1 905.0L990.1 905.5L991.0 905.9L992.0 905.6L993.0 905.2L994.0 904.7L995.0 904.9L996.0 905.5L997.0 906.2L998.0 906.2L999.0 905.5L1000.0 904.7L1001.0 904.1L1002.0 904.4L1003.0 904.8L1004.0 905.1L1005.0 904.7L1005.9 904.3L1006.9 903.9L1007.9 903.8L1008.9 903.8L1009.9 903.8L1010.9 903.6L1011.9 903.1L1012.9 902.7L1013.9 902.6L1014.9 903.2L1015.9 903.8L1016.9 904.4L1017.9 904.2L1018.9 904.0L1019.9 903.8L1020.9 904.0L1021.9 904.3L1022.9 904.5L1023.9 904.5L1024.9 904.2L1025.9 904.0L1026.9 904.2L1027.9 904.7L1028.9 905.2L1029.9 905.4L1030.9 905.1L1031.9 904.8L1032.9 904.6L1033.9 905.1L1034.9 905.7L1035.9 906.2L1036.9 905.9L1037.9 905.5L1038.9 905.1L1039.9 905.3L1040.9 905.9L1041.8 906.4L1042.8 906.4L1043.8 905.5L1044.8 904.7L1045.8 904.3L1046.8 905.3L1047.8 906.3L1048.8 907.4L1049.8 907.2L1050.8 907.0L1051.8 906.8L1052.8 907.4L1053.7 908.2L1054.7 909.0L1055.7 909.1L1056.7 908.5L1057.7 907.9L1058.7 907.6L1059.7 908.2L1060.7 908.8L1061.7 909.4L1062.7 909.1L1063.6 908.8L1064.6 908.6L1065.6 908.8L1066.6 909.1L1067.6 909.4L1068.6 909.2L1069.6 908.7L1070.6 908.2L1071.6 908.2L1072.6 908.9L1073.6 909.6L1074.6 910.1L1075.6 909.8L1076.6 909.5L1077.6 909.1L1078.6 909.5L1079.6 909.9L1080.6 910.3L1081.6 910.3L1082.6 910.3L1083.6 910.2L1084.6 910.5L1085.6 911.0L1086.6 911.5L1087.6 911.4L1088.6 910.2L1089.6 909.1L1090.6 908.2L1091.6 909.1L1092.6 909.9L1093.6 910.8L1094.6 910.3L1095.6 909.7L1096.6 909.2L1097.6 909.4L1098.6 909.9L1099.6 910.3L1100.5 910.3L1101.5 909.9L1102.5 909.5L1103.5 909.3L1104.5 909.5L1105.5 909.7L1106.5 909.9L1107.5 909.7L1108.5 909.6L1109.5 909.5L1110.5 910.0L1111.5 910.5L1112.5 911.0L1113.5 910.7L1114.5 910.2L1115.5 909.6L1116.5 909.6L1117.5 910.2L1118.5 910.7L1119.5 911.0L1120.5 911.0L1121.5 911.0L1122.5 911.0L1123.5 911.4L1124.5 911.7L1125.5 912.1L1126.5 911.7L1127.5 911.1L1128.5 910.5L1129.5 910.7L1130.5 911.3L1131.5 912.0L1132.4 912.3L1133.4 912.3L1134.4 912.2L1135.4 912.3L1136.4 912.6L1137.4 912.9L1138.4 913.2L1139.4 913.0L1140.4 912.9L1141.4 912.8L1142.4 913.0L1143.4 913.4L1144.3 913.8L1145.3 913.8L1146.3 913.6L1147.3 913.4L1148.3 913.4L1149.3 914.1L1150.3 914.8L1151.3 915.4L1152.3 914.8L1153.3 914.2L1154.3 913.7L1155.3 914.2L1156.2 914.8L1157.2 915.5L1158.2 915.4L1159.2 914.9L1160.2 914.5L1161.2 914.6L1162.2 915.7L1163.2 916.9L1164.2 917.8L1165.2 917.5L1166.1 917.2L1167.1 916.9L1168.1 917.2L1169.1 917.4L1170.1 917.7L1171.1 917.6L1172.1 917.4L1173.1 917.2L1174.1 917.3L1175.1 917.6L1176.1 917.9L1177.1 918.0L1178.1 917.7L1179.0 917.3L1180.0 916.9L1181.0 917.4L1182.0 917.9L1183.0 918.4L1184.0 918.0L1185.0 917.5L1186.0 917.0L1187.0 916.9L1188.0 917.0L1189.0 917.1L1190.0 917.1L1191.0 916.9L1192.0 916.7L1193.0 916.7L1194.0 917.2L1195.0 917.7L1196.0 918.2L1197.0 917.8L1198.0 917.3L1198.9 916.9L1199.9 917.3L1200.9 918.1L1201.9 918.8L1202.9 918.9L1203.9 918.4L1204.9 917.9L1205.9 917.5L1206.9 917.6L1207.9 917.6L1208.8 917.5L1209.8 917.1L1210.7 916.7L1211.6 916.3L1212.5 916.0L1213.3 916.0L1214.2 915.8L1215.0 915.6L1215.7 914.9L1216.5 914.0L1217.2 913.0L1218.0 912.0L1218.7 911.1L1219.4 910.6L1220.2 910.0L1220.9 909.5L1221.6 908.9L1222.4 908.1L1223.1 907.2L1223.8 906.3L1224.6 905.5L1225.3 905.0L1226.0 904.7L1226.7 904.4L1227.5 904.1L1228.2 903.6L1229.0 902.5L1229.7 901.4L1230.5 900.3L1231.3 899.3L1232.1 899.1L1233.0 898.9L1233.8 898.8L1234.7 898.3L1235.6 897.2L1236.6 896.1L1237.5 895.0L1238.5 895.3L1239.4 895.6L1240.4 896.1L1241.4 896.0L1242.4 895.5L1243.3 895.1L1244.3 894.9L1245.3 895.0L1246.3 895.2L1247.3 895.3L1248.3 894.9L1249.3 894.5L1250.3 894.1L1251.4 894.4L1252.4 894.8L1253.3 895.3L1254.3 894.9L1255.3 894.4L1256.3 893.9L1257.2 893.9L1258.2 894.5L1259.1 895.1L1260.1 895.8L1261.0 896.0L1261.9 896.2L1262.9 896.5L1263.8 897.1L1264.7 897.8L1265.7 898.6L1266.6 899.1L1267.5 899.0L1268.5 898.8L1269.4 898.7L1270.3 899.4L1271.3 900.4L1272.2 901.4L1273.1 902.0L1274.0 901.8L1275.0 901.5L1275.9 901.3L1276.8 902.0L1277.8 902.9L1278.7 903.7L1279.6 904.3L1280.5 904.3L1281.5 904.4L1282.4 904.5L1283.3 905.0L1284.2 905.6L1285.1 906.1L1286.1 906.4L1287.0 906.5L1287.9 906.6L1288.8 906.6L1289.7 907.3L1290.7 907.9L1291.6 908.6L1292.5 909.0L1293.4 909.2L1294.4 909.5L1295.3 909.8L1296.2 910.3L1297.2 910.8L1298.1 911.3L1299.0 911.7L1300.0 912.1L1300.9 912.4L1301.8 912.8L1302.8 913.3L1303.7 913.8L1304.7 914.2L1305.6 914.4L1306.6 914.5L1307.5 914.7L1308.5 914.9L1309.5 915.3L1310.4 915.6L1311.4 915.8L1312.4 915.6L1313.4 915.4L1314.4 915.1L1315.4 915.3L1316.4 915.4L1317.4 915.5L1318.4 915.3L1319.4 914.9L1320.4 914.4L1321.4 914.2L1322.3 914.2L1323.3 914.1L1324.2 913.9L1325.2 913.6L1326.1 913.2L1327.1 912.8L1328.0 912.4L1328.9 912.0L1329.9 911.6L1330.8 911.2L1331.7 910.7L1332.7 910.3L1333.6 910.0L1334.6 909.9L1335.6 910.0L1336.5 910.0L1337.5 910.0L1338.5 910.0L1339.5 910.0L1340.5 910.1L1341.5 910.2L1342.5 910.4L1343.5 910.5L1344.6 910.4L1345.6 910.3L1346.6 910.3L1347.6 910.4L1348.6 910.5L1349.6 910.6L1350.6 910.6L1351.6 910.6L1352.5 910.6L1353.5 910.8L1354.5 911.0L1355.4 911.3L1356.4 911.6L1357.4 911.8L1358.3 912.1L1359.3 912.3L1360.2 912.8L1361.1 913.2L1362.1 913.7L1363.0 914.0L1364.0 914.2L1364.9 914.5L1365.9 914.8L1366.8 915.2L1367.8 915.7L1368.7 916.2L1369.7 916.4L1370.7 916.6L1371.6 916.9L1372.6 917.3L1373.5 917.8L1374.5 918.4L1375.4 918.8L1376.4 919.0L1377.3 919.2L1378.3 919.3L1379.3 919.7L1380.2 920.0L1381.2 920.3L1382.2 920.5L1383.1 920.7L1384.1 920.8L1385.1 920.9L1386.0 921.1L1387.0 921.3L1388.0 921.4L1389.0 921.3L1390.0 921.2L1391.0 921.0L1392.0 921.1L1393.0 921.3L1394.0 921.5L1395.0 921.4L1396.0 921.2L1397.0 920.9L1398.0 920.8L1399.0 920.9L1400.0 921.0L1401.0 921.0L1402.0 920.8L1403.0 920.6L1404.0 920.5L1405.0 920.6L1406.0 920.7L1407.0 920.8L1408.0 920.6L1409.0 920.4L1410.0 920.3L1411.0 920.4L1412.0 920.6L1413.0 921.0L1414.0 921.2L1415.0 921.2L1415.9 921.2L1416.9 921.3L1417.9 921.7L1418.9 922.1L1419.9 922.5L1420.8 922.6L1421.8 922.7L1422.8 922.8L1423.7 923.1L1424.6 923.5L1425.6 924.0L1426.5 924.5L1427.4 924.9L1428.3 925.3L1429.2 925.8L1430.1 926.4L1430.9 927.0L1431.8 927.7L1432.7 928.4L1433.5 929.0L1434.4 929.5L1435.3 930.0L1436.2 930.5L1437.1 930.9L1437.9 931.3L1438.9 931.6L1439.8 931.8L1440.7 931.8L1441.7 931.7L1442.6 931.7L1443.6 931.8L1444.6 931.9L1445.6 932.0L1446.6 932.0L1447.6 932.0L1448.6 932.0L1449.6 932.1L1450.6 932.2L1451.6 932.3L1452.6 932.3L1453.6 932.1L1454.7 932.0L1455.7 931.9L1456.7 931.9L1457.7 931.9L1458.7 931.9L1459.7 931.7L1460.7 931.5L1461.7 931.3L1462.8 931.2L1463.8 931.1L1464.8 930.9L1465.8 930.7L1466.7 930.5L1467.7 930.2L1468.6 930.1L1469.6 929.9L1470.5 929.7L1471.4 929.4L1472.2 929.0L1473.1 928.5L1473.9 927.9L1474.7 927.4L1475.5 926.9L1476.3 926.4L1477.1 925.8L1477.9 925.1L1478.7 924.2L1479.4 923.4L1480.2 922.5L1481.0 921.8L1481.8 921.3L1482.6 920.8L1483.5 920.3L1484.3 919.9L1485.2 919.4L1486.1 919.0L1487.0 918.7L1488.0 918.4L1488.9 918.2L1489.9 917.9L1490.8 917.7L1491.8 917.3L1492.8 917.0L1493.8 916.6L1494.7 916.5L1495.7 916.3L1496.7 916.2L1497.6 915.7L1498.6 915.2L1499.5 914.7L1500.5 914.2L1501.4 913.8L1502.4 913.5L1503.3 913.1L1504.3 912.7L1505.2 912.4L1506.2 912.1L1507.1 912.0L1508.0 912.0L1508.9 912.1L1509.8 912.2L1510.7 912.2L1511.6 912.3L1512.4 912.5L1513.3 913.0L1514.2 913.7L1515.0 914.5L1515.9 915.3L1516.7 915.9L1517.6 916.5L1518.4 917.1L1519.3 917.6L1520.2 918.2L1521.1 918.8L1522.0 919.3L1522.9 919.7L1523.8 920.1L1524.7 920.4L1525.7 920.7L1526.6 921.1L1527.6 921.6L1528.5 922.0L1529.5 922.3L1530.5 922.5L1531.4 922.7L1532.4 923.0L1533.3 923.4L1534.2 923.9L1535.2 924.4L1536.1 924.6L1536.9 924.9L1537.8 925.2L1538.7 925.7L1539.5 926.3L1540.3 927.0L1541.1 927.7L1541.9 928.4L1542.7 929.0L1543.4 929.5L1544.2 930.1L1545.0 930.7L1545.8 931.5L1546.6 932.2L1547.4 932.8L1548.2 933.4L1549.0 933.8L1549.8 934.2L1550.7 934.5L1551.6 934.9L1552.5 935.4L1553.4 935.9L1554.3 936.4L1555.2 936.7L1556.2 936.9L1557.1 937.2L1558.1 937.5L1559.1 937.9L1560.0 938.3L1561.0 938.7L1562.0 938.7L1563.0 938.8L1564.0 938.9L1564.9 939.3L1565.9 939.7L1566.9 940.1L1567.8 940.3L1568.8 940.5L1569.8 940.7L1570.7 941.0L1571.7 941.5L1572.7 942.0L1573.6 942.5L1574.6 942.7L1575.6 942.8L1576.5 943.0L1577.5 943.3L1578.5 943.6L1579.4 943.9L1580.4 944.1L1581.4 944.2L1582.3 944.2L1583.3 944.2L1584.3 944.5L1585.3 944.8L1586.3 945.0L1587.3 944.9L1588.3 944.7L1589.3 944.4L1590.3 944.4L1591.3 944.4L1592.3 944.4L1593.3 944.2L1594.3 944.0L1595.3 943.7L1596.3 943.5L1597.2 943.4L1598.2 943.4L1599.2 943.3L1600.2 943.0L1601.1 942.5L1602.1 942.1L1603.0 941.7L1604.0 941.4L1604.9 941.1L1605.8 940.9L1606.7 940.7L1607.6 940.6L1608.5 940.6L1609.4 940.8L1610.3 941.2L1611.2 941.7L1612.0 942.3L1612.9 942.8L1613.8 943.3L1614.6 943.8L1615.5 944.3L1616.4 944.9L1617.3 945.4L1618.3 945.9L1619.2 946.2L1620.2 946.5L1621.1 946.8L1622.1 947.1L1623.1 947.4L1624.1 947.7L1625.0 947.9L1626.0 948.0L1627.0 948.0L1628.0 948.0L1629.0 948.0L1630.0 948.0L1631.0 947.8L1632.0 947.5L1632.9 947.1L1633.9 946.6L1634.8 946.1L1635.6 945.7L1636.4 945.2L1637.1 944.7L1637.8 944.1L1638.4 943.4L1638.9 942.6L1639.4 941.8L1639.9 941.0L1640.4 940.1L1640.8 939.2L1641.3 938.3L1641.7 937.3L1642.1 936.4L1642.5 935.4L1642.9 934.4L1643.3 933.4L1643.7 932.4L1644.1 931.4L1644.4 930.5L1644.8 929.5L1645.2 928.6L1645.6 927.6L1646.0 926.7L1646.3 925.8L1646.7 924.8L1647.0 923.9L1647.4 923.0L1647.7 922.0L1648.1 921.1L1648.4 920.1L1648.8 919.2L1649.1 918.2L1649.5 917.3L1649.9 916.4L1650.3 915.5L1650.7 914.6L1651.1 913.7L1651.5 912.8L1652.0 911.9L1652.4 911.0L1652.9 910.2L1653.4 909.3L1654.0 908.5L1654.5 907.6L1655.1 906.8L1655.6 906.0L1656.2 905.1L1656.8 904.3L1657.4 903.5L1658.0 902.7L1658.6 901.9L1659.2 901.1L1659.8 900.3L1660.4 899.5L1661.0 898.7L1661.6 897.9L1662.2 897.1L1662.9 896.4L1663.5 895.6L1664.1 894.8L1664.8 894.1L1665.4 893.3L1666.1 892.5L1666.7 891.7L1667.3 891.0L1667.9 890.2L1668.6 889.4L1669.2 888.6L1669.8 887.8L1670.4 887.0L1671.0 886.2L1671.6 885.4L1672.2 884.6L1672.8 883.8L1673.4 882.9L1674.0 882.1L1674.6 881.3L1675.1 880.5L1675.7 879.6L1676.2 878.8L1676.8 877.9L1677.3 877.1L1677.7 876.2L1678.2 875.4L1678.6 874.5L1679.0 873.6L1679.4 872.7L1679.8 871.8L1680.1 870.8L1680.5 869.9L1680.8 869.0L1681.1 868.0L1681.5 867.1L1681.8 866.1L1682.1 865.1L1682.4 864.2L1682.7 863.2L1682.9 862.2L1683.2 861.3L1683.5 860.3L1683.8 859.3L1684.0 858.4L1684.3 857.4L1684.6 856.4L1684.8 855.5L1685.1 854.5L1685.4 853.6L1685.6 852.6L1685.9 851.6L1686.1 850.6L1686.3 849.7L1686.6 848.7L1686.8 847.7L1687.0 846.8L1687.3 845.8L1687.5 844.8L1687.7 843.8L1688.0 842.9L1688.2 841.9L1688.4 840.9L1688.7 839.9L1688.9 839.0L1689.2 838.0L1689.4 837.0L1689.6 836.1L1689.9 835.1L1690.1 834.1L1690.4 833.1L1690.6 832.2L1690.8 831.2L1691.1 830.2L1691.3 829.3L1691.5 828.3L1691.8 827.3L1692.0 826.3L1692.3 825.4L1692.5 824.4L1692.7 823.4L1693.0 822.5L1693.2 821.5L1693.5 820.5L1693.8 819.6L1694.0 818.6L1694.3 817.6L1694.5 816.7L1694.8 815.7L1695.1 814.7L1695.4 813.8L1695.7 812.8L1696.0 811.9L1696.3 810.9L1696.6 810.0L1696.9 809.0L1697.2 808.1L1697.5 807.1L1697.8 806.2L1698.2 805.2L1698.5 804.3L1698.8 803.3L1699.2 802.4L1699.5 801.5L1699.8 800.5L1700.1 799.6L1700.5 798.6L1700.8 797.7L1701.1 796.7L1701.4 795.8L1701.7 794.8L1702.0 793.9L1702.3 792.9L1702.6 792.0L1702.9 791.0L1703.2 790.0L1703.5 789.1L1703.8 788.1L1704.0 787.2L1704.3 786.2L1704.6 785.2L1704.9 784.3L1705.1 783.3L1705.4 782.4L1705.7 781.4L1706.0 780.4L1706.2 779.5L1706.5 778.5L1706.8 777.5L1707.0 776.6L1707.3 775.6L1707.6 774.7L1707.9 773.7L1708.1 772.7L1708.4 771.8L1708.7 770.8L1708.9 769.8L1709.2 768.9L1709.5 767.9L1709.7 766.9L1710.0 766.0L1710.3 765.0L1710.5 764.1L1710.8 763.1L1711.1 762.1L1711.3 761.2L1711.6 760.2L1711.9 759.2L1712.1 758.3L1712.4 757.3L1712.7 756.3L1712.9 755.4L1713.2 754.4L1713.5 753.5L1713.7 752.5L1714.0 751.5L1714.2 750.6L1714.5 749.6L1714.7 748.6L1715.0 747.6L1715.2 746.7L1715.5 745.7L1715.7 744.7L1715.9 743.8L1716.1 742.8L1716.4 741.8L1716.6 740.8L1716.8 739.9L1717.0 738.9L1717.2 737.9L1717.4 736.9L1717.6 735.9L1717.8 735.0L1718.0 734.0L1718.2 733.0L1718.4 732.0L1718.6 731.0L1718.8 730.1L1719.0 729.1L1719.2 728.1L1719.4 727.1L1719.6 726.1L1719.8 725.2L1720.0 724.2L1720.2 723.2L1720.4 722.2L1720.6 721.2L1720.8 720.3L1721.0 719.3L1721.2 718.3L1721.4 717.3L1721.7 716.3L1721.8 715.3L1722.0 714.3L1722.2 713.4L1722.4 712.4L1722.6 711.4L1722.8 710.4L1723.0 709.4L1723.2 708.4L1723.4 707.4L1723.7 706.4L1723.9 705.5L1724.1 704.5L1724.4 703.5L1724.7 702.6L1725.0 701.7L1725.3 700.7L1725.6 699.7L1726.0 698.7L1726.4 697.7L1726.8 696.6L1727.3 695.6L1727.8 694.5L1728.3 693.6L1728.9 692.7L1729.4 692.0L1730.0 691.5L1730.6 691.2L1731.2 691.1L1731.9 691.3L1732.6 691.7L1733.3 692.3L1733.9 693.0L1734.6 693.8L1735.3 694.7L1735.9 695.6L1736.5 696.6L1737.0 697.5L1737.5 698.4L1738.0 699.3L1738.3 700.2L1738.7 701.1L1739.0 702.0L1739.4 702.9L1739.7 703.9L1740.0 704.8L1740.3 705.8L1740.5 706.8L1740.8 707.7L1741.1 708.7L1741.3 709.7L1741.6 710.7L1741.9 711.7L1742.1 712.7L1742.4 713.7L1742.7 714.6L1743.0 715.6L1743.3 716.6L1743.6 717.5L1743.9 718.5L1744.2 719.4L1744.5 720.4L1744.8 721.3L1745.2 722.3L1745.5 723.2L1745.8 724.2L1746.2 725.1L1746.5 726.1L1746.8 727.0L1747.2 727.9L1747.5 728.9L1747.9 729.8L1748.2 730.8L1748.6 731.7L1748.9 732.6L1749.3 733.6L1749.6 734.5L1750.0 735.4L1750.4 736.4L1750.7 737.3L1751.1 738.2L1751.5 739.2L1751.8 740.1L1752.2 741.0L1752.6 742.0L1752.9 742.9L1753.3 743.8L1753.7 744.8L1754.1 745.7L1754.5 746.6L1754.9 747.5L1755.3 748.4L1755.8 749.3L1756.2 750.2L1756.7 751.1L1757.2 752.1L1757.7 753.0L1758.2 754.0L1758.7 754.9L1759.3 755.9L1759.9 756.7L1760.6 757.4L1761.2 758.0L1762.0 758.4L1762.7 758.7L1763.6 758.9L1764.5 758.9L1765.4 758.8L1766.3 758.7L1767.1 758.6L1767.7 758.4L1768.2 758.3"/>
<path d="M148.9 1154.5L149.4 1154.4L150.1 1154.4L151.0 1154.5L152.0 1154.5L153.0 1154.6L154.0 1154.6L155.0 1154.5L156.0 1154.5L157.0 1154.7L158.0 1155.0L159.0 1155.2L160.0 1155.1L161.0 1154.9L162.0 1154.7L163.0 1154.7L164.0 1154.9L165.0 1155.0L166.0 1154.9L167.0 1154.2L168.0 1153.6L169.0 1153.2L170.0 1153.8L171.0 1154.4L172.0 1155.0L173.0 1155.0L174.0 1154.9L175.0 1154.8L176.0 1154.9L177.0 1155.1L178.0 1155.3L179.0 1155.3L180.0 1155.1L181.0 1154.9L182.0 1154.9L183.0 1155.4L184.0 1156.0L185.0 1156.4L186.0 1156.0L187.0 1155.5L188.0 1154.9L189.0 1155.3L190.0 1155.7L191.0 1156.2L192.0 1156.0L193.0 1155.7L194.0 1155.3L195.0 1155.7L196.0 1156.5L197.0 1157.4L198.0 1157.6L199.0 1156.8L200.0 1156.0L201.0 1155.4L202.0 1155.5L203.0 1155.7L204.0 1155.9L205.0 1154.8L206.0 1153.6L207.0 1152.5L208.0 1153.5L209.0 1155.1L210.0 1156.8L211.0 1157.0L212.0 1156.2L213.0 1155.3L214.0 1155.1L215.0 1155.7L216.0 1156.3L217.0 1156.7L218.0 1156.2L219.0 1155.7L220.0 1155.2L221.0 1157.0L222.0 1158.8L223.0 1160.6L224.0 1159.9L225.0 1158.4L226.0 1157.0L227.0 1156.5L228.0 1156.9L228.9 1157.3L229.9 1157.4L230.9 1156.8L231.9 1156.2L232.9 1155.8L233.9 1156.9L234.9 1158.1L235.9 1159.2L236.9 1158.7L237.9 1158.2L238.9 1157.6L239.9 1157.9L240.9 1158.5L241.9 1159.2L242.9 1159.2L243.9 1158.7L244.9 1158.1L245.9 1157.8L246.9 1158.2L247.9 1158.6L248.9 1159.0L249.9 1158.7L250.9 1158.4L251.9 1158.1L252.8 1160.0L253.8 1162.3L254.8 1164.6L255.8 1163.9L256.8 1161.4L257.8 1158.9L258.8 1158.2L259.8 1159.8L260.8 1161.4L261.8 1162.4L262.8 1160.5L263.8 1158.7L264.8 1156.8L265.8 1158.2L266.8 1159.6L267.8 1161.0L268.8 1160.9L269.8 1160.3L270.8 1159.8L271.8 1160.0L272.8 1160.7L273.8 1161.5L274.8 1161.7L275.8 1160.9L276.8 1160.1L277.8 1159.6L278.8 1160.2L279.8 1160.9L280.8 1161.5L281.8 1161.6L282.8 1161.6L283.8 1161.6L284.8 1162.3L285.7 1163.2L286.7 1164.2L287.7 1163.9L288.7 1162.6L289.7 1161.4L290.7 1160.8L291.7 1161.4L292.7 1162.1L293.7 1162.5L294.7 1161.7L295.7 1160.9L296.7 1160.1L297.7 1160.9L298.7 1161.9L299.7 1162.9L300.7 1162.7L301.7 1162.0L302.7 1161.4L303.7 1161.6L304.7 1162.5L305.7 1163.4L306.7 1163.8L307.7 1163.3L308.7 1162.8L309.7 1162.4L310.7 1162.7L311.7 1163.1L312.7 1163.4L313.7 1163.1L314.7 1162.7L315.7 1162.2L316.7 1162.3L317.7 1162.6L318.7 1162.8L319.7 1162.5L320.7 1161.4L321.7 1160.3L322.6 1159.7L323.6 1160.6L324.6 1161.6L325.6 1162.4L326.6 1161.9L327.6 1161.4L328.6 1160.9L329.6 1161.4L330.6 1162.1L331.6 1162.9L332.6 1162.7L333.5 1161.7L334.5 1160.8L335.5 1160.3L336.5 1160.8L337.5 1161.2L338.5 1161.5L339.5 1160.4L340.5 1159.2L341.5 1158.0L342.5 1159.1L343.4 1160.5L344.4 1161.8L345.4 1161.1L346.4 1159.5L347.4 1158.1L348.4 1157.4L349.4 1157.8L350.3 1158.1L351.3 1158.2L352.3 1157.5L353.3 1156.9L354.3 1156.3L355.2 1156.7L356.2 1157.2L357.2 1157.5L358.2 1157.2L359.1 1156.5L360.1 1155.8L361.1 1155.2L362.0 1155.2L363.0 1155.1L364.0 1155.0L364.9 1154.5L365.9 1154.1L366.9 1153.6L367.8 1153.6L368.8 1153.8L369.8 1154.0L370.7 1153.9L371.7 1153.0L372.7 1152.2L373.6 1151.3L374.6 1151.4L375.6 1151.5L376.5 1151.5L377.5 1151.2L378.5 1150.7L379.5 1150.2L380.4 1150.0L381.4 1150.1L382.4 1150.2L383.3 1150.2L384.3 1149.8L385.3 1149.3L386.2 1148.9L387.2 1148.7L388.2 1148.4L389.1 1148.2L390.1 1147.9L391.1 1147.3L392.0 1146.8L393.0 1146.4L394.0 1146.6L395.0 1146.8L395.9 1147.0L396.9 1146.5L397.9 1146.1L398.8 1145.6L399.8 1145.4L400.8 1145.3L401.8 1145.3L402.8 1145.1L403.7 1144.7L404.7 1144.3L405.7 1144.0L406.7 1144.0L407.7 1144.0L408.7 1144.0L409.6 1143.7L410.6 1143.4L411.6 1143.1L412.6 1143.0L413.6 1143.1L414.6 1143.1L415.6 1143.0L416.6 1142.6L417.6 1142.3L418.5 1142.0L419.5 1142.1L420.5 1142.2L421.5 1142.2L422.5 1141.9L423.5 1141.6L424.5 1141.3L425.5 1141.2L426.5 1141.2L427.5 1141.3L428.5 1141.2L429.5 1141.0L430.5 1140.9L431.5 1140.8L432.4 1140.7L433.4 1140.7L434.4 1140.6L435.4 1140.4L436.4 1140.3L437.4 1140.2L438.4 1140.2L439.4 1140.3L440.4 1140.3L441.4 1140.2L442.4 1139.9L443.4 1139.6L444.4 1139.5L445.4 1139.5L446.4 1139.6L447.4 1139.6L448.4 1139.5L449.4 1139.4L450.4 1139.3L451.4 1139.4L452.4 1139.5L453.4 1139.6L454.4 1139.6L455.4 1139.5L456.4 1139.4L457.4 1139.4L458.4 1139.4L459.4 1139.4L460.4 1139.4L461.4 1139.4L462.4 1139.3L463.4 1139.3L464.4 1139.3L465.4 1139.3L466.4 1139.4L467.4 1139.3L468.4 1139.2L469.4 1139.1L470.4 1139.2L471.4 1139.3L472.4 1139.4L473.4 1139.4L474.4 1139.3L475.4 1139.3L476.4 1139.2L477.4 1139.2L478.4 1139.2L479.4 1139.2L480.4 1139.2L481.4 1139.1L482.4 1139.1L483.4 1139.1L484.4 1139.2L485.4 1139.2L486.4 1139.1L487.4 1138.9L488.4 1138.8L489.4 1138.9L490.4 1139.1L491.4 1139.4L492.4 1139.4L493.4 1139.2L494.4 1139.0L495.4 1138.9L496.4 1139.2L497.4 1139.5L498.4 1139.7L499.4 1139.5L500.4 1139.4L501.4 1139.2L502.4 1139.2L503.4 1139.3L504.4 1139.4L505.4 1139.3L506.4 1139.3L507.4 1139.2L508.4 1139.2L509.4 1139.4L510.4 1139.6L511.4 1139.7L512.4 1139.5L513.4 1139.3L514.4 1139.0L515.4 1139.2L516.4 1139.3L517.4 1139.5L518.4 1139.4L519.4 1139.3L520.4 1139.2L521.4 1139.2L522.4 1139.3L523.4 1139.5L524.4 1139.5L525.4 1139.4L526.4 1139.3L527.4 1139.2L528.4 1139.3L529.4 1139.3L530.4 1139.4L531.4 1139.4L532.4 1139.3L533.4 1139.3L534.4 1139.5L535.4 1139.8L536.4 1140.1L537.4 1140.0L538.4 1139.8L539.4 1139.6L540.4 1139.5L541.4 1139.6L542.4 1139.7L543.4 1139.7L544.4 1139.7L545.4 1139.6L546.4 1139.6L547.4 1139.7L548.4 1139.9L549.4 1140.0L550.4 1139.9L551.4 1139.8L552.4 1139.7L553.4 1139.7L554.4 1139.9L555.4 1140.0L556.4 1140.0L557.4 1140.0L558.4 1139.9L559.4 1139.8L560.4 1139.9L561.4 1140.0L562.4 1140.2L563.4 1140.1L564.4 1140.1L565.4 1140.1L566.4 1140.2L567.4 1140.4L568.4 1140.6L569.4 1140.6L570.4 1140.5L571.4 1140.4L572.4 1140.4L573.4 1140.5L574.4 1140.6L575.4 1140.7L576.4 1140.7L577.4 1140.6L578.4 1140.6L579.4 1140.8L580.4 1140.9L581.4 1141.0L582.4 1141.0L583.4 1140.9L584.4 1140.8L585.4 1140.9L586.4 1141.1L587.4 1141.3L588.4 1141.4L589.4 1141.3L590.4 1141.2L591.4 1141.2L592.4 1141.5L593.4 1141.8L594.4 1142.0L595.4 1141.9L596.4 1141.7L597.4 1141.6L598.4 1141.6L599.4 1141.7L600.4 1141.8L601.4 1141.8L602.4 1141.8L603.4 1141.7L604.4 1141.7L605.4 1142.0L606.4 1142.2L607.4 1142.3L608.4 1142.3L609.4 1142.2L610.4 1142.1L611.4 1142.3L612.4 1142.4L613.4 1142.6L614.4 1142.6L615.4 1142.6L616.4 1142.6L617.4 1142.7L618.4 1142.8L619.4 1142.9L620.4 1143.0L621.4 1143.1L622.4 1143.1L623.4 1143.1L624.4 1143.3L625.4 1143.4L626.4 1143.5L627.4 1143.4L628.4 1143.3L629.3 1143.2L630.3 1143.3L631.3 1143.5L632.3 1143.7L633.3 1143.6L634.3 1143.5L635.3 1143.2L636.2 1143.0L637.2 1142.8L638.2 1142.5L639.1 1142.3L640.1 1141.9L641.1 1141.5L642.0 1141.1L643.0 1141.0L644.0 1141.0L645.0 1141.1L645.9 1141.1L646.9 1141.1L647.9 1141.1L648.8 1141.2L649.8 1141.6L650.8 1142.0L651.7 1142.4L652.7 1142.6L653.7 1142.9L654.6 1143.1L655.6 1143.4L656.6 1143.8L657.6 1144.1L658.5 1144.4L659.5 1144.5L660.5 1144.6L661.5 1144.7L662.4 1144.8L663.4 1144.9L664.4 1144.9L665.4 1144.8L666.4 1144.6L667.4 1144.3L668.4 1144.2L669.4 1144.3L670.4 1144.3L671.4 1144.4L672.4 1144.1L673.4 1143.9L674.4 1143.7L675.4 1143.8L676.3 1143.9L677.3 1144.2L678.3 1144.3L679.2 1144.6L680.2 1144.8L681.2 1145.1L682.1 1145.6L683.1 1146.0L684.1 1146.3L685.0 1146.4L686.0 1146.5L687.0 1146.5L687.9 1146.8L688.9 1147.2L689.9 1147.5L690.9 1147.7L691.9 1147.7L692.8 1147.6L693.8 1147.7L694.8 1147.9L695.8 1148.2L696.8 1148.4L697.8 1148.4L698.8 1148.3L699.8 1148.2L700.7 1148.3L701.7 1148.4L702.7 1148.5L703.7 1148.6L704.7 1148.6L705.7 1148.6L706.7 1148.7L707.7 1148.8L708.7 1149.0L709.7 1149.1L710.7 1149.0L711.7 1148.8L712.7 1148.7L713.7 1149.0L714.7 1149.2L715.7 1149.5L716.7 1149.5L717.7 1149.3L718.7 1149.1L719.7 1149.1L720.7 1149.3L721.7 1149.5L722.7 1149.7L723.7 1149.7L724.7 1149.7L725.7 1149.8L726.7 1149.8L727.7 1149.9L728.7 1150.0L729.7 1150.0L730.7 1150.0L731.7 1150.0L732.7 1150.1L733.7 1150.2L734.8 1150.3L735.8 1150.4L736.8 1150.4L737.8 1150.3L738.8 1150.4L739.8 1150.4L740.8 1150.5L741.8 1150.6L742.8 1150.5L743.8 1150.5L744.8 1150.4L745.8 1150.6L746.8 1150.8L747.8 1151.0L748.8 1151.0L749.8 1151.0L750.8 1150.9L751.8 1151.0L752.8 1151.2L753.8 1151.4L754.8 1151.5L755.8 1151.4L756.8 1151.4L757.8 1151.4L758.8 1151.6L759.8 1151.8L760.8 1152.0L761.8 1152.0L762.8 1151.9L763.8 1151.8L764.8 1152.0L765.8 1152.2L766.7 1152.5L767.7 1152.6L768.7 1152.6L769.7 1152.6L770.7 1152.6L771.7 1152.9L772.7 1153.2L773.7 1153.4L774.7 1153.5L775.7 1153.6L776.7 1153.7L777.6 1154.0L778.6 1154.3L779.6 1154.6L780.6 1154.8L781.6 1154.8L782.6 1154.8L783.6 1154.8L784.6 1155.0L785.6 1155.2L786.6 1155.4L787.5 1155.5L788.5 1155.6L789.5 1155.7L790.5 1156.0L791.5 1156.2L792.5 1156.5L793.5 1156.5L794.5 1156.5L795.5 1156.4L796.5 1156.5L797.5 1156.8L798.5 1157.1L799.4 1157.3L800.4 1157.2L801.4 1157.1L802.4 1157.0L803.4 1157.2L804.4 1157.3L805.4 1157.4L806.4 1157.4L807.4 1157.4L808.4 1157.4L809.4 1157.5L810.4 1157.6L811.4 1157.8L812.4 1157.9L813.4 1157.9L814.4 1157.9L815.4 1157.9L816.4 1158.0L817.4 1158.2L818.4 1158.3L819.4 1158.3L820.4 1158.3L821.4 1158.3L822.4 1158.4L823.4 1158.5L824.4 1158.6L825.4 1158.7L826.4 1158.7L827.4 1158.8L828.4 1158.8L829.4 1158.9L830.4 1158.9L831.4 1159.0L832.4 1159.0L833.4 1159.0L834.4 1159.1L835.4 1159.2L836.4 1159.3L837.4 1159.5L838.4 1159.5L839.4 1159.4L840.4 1159.4L841.4 1159.6L842.4 1159.9L843.4 1160.1L844.4 1160.3L845.4 1160.1L846.4 1159.9L847.4 1159.8L848.4 1160.0L849.4 1160.2L850.4 1160.3L851.4 1160.2L852.4 1160.1L853.4 1160.0L854.4 1160.2L855.4 1160.4L856.4 1160.7L857.4 1160.7L858.4 1160.6L859.4 1160.4L860.4 1160.4L861.4 1160.6L862.4 1160.9L863.4 1161.1L864.4 1161.1L865.4 1161.2L866.4 1161.3L867.5 1161.5L868.5 1161.7L869.5 1161.9L870.5 1161.9L871.5 1161.8L872.5 1161.7L873.5 1161.8L874.5 1162.0L875.5 1162.2L876.5 1162.2L877.5 1161.9L878.5 1161.5L879.5 1161.4L880.5 1161.8L881.5 1162.3L882.5 1162.8L883.5 1162.7L884.5 1162.7L885.5 1162.6L886.5 1162.7L887.4 1162.8L888.4 1162.9L889.4 1162.8L890.4 1162.5L891.4 1162.1L892.3 1162.1L893.3 1162.5L894.3 1162.9L895.2 1163.2L896.2 1162.7L897.1 1162.1L898.1 1161.5L899.0 1161.3L900.0 1161.4L900.9 1161.5L901.9 1161.5L902.8 1160.8L903.7 1160.3L904.7 1160.0L905.6 1160.3L906.5 1160.8L907.5 1161.4L908.4 1161.8L909.3 1162.0L910.3 1162.1L911.2 1162.2L912.2 1162.8L913.2 1163.4L914.1 1164.0L915.1 1163.9L916.1 1163.6L917.1 1163.3L918.0 1163.3L919.0 1163.6L920.0 1163.9L921.0 1164.1L922.0 1163.8L923.0 1163.5L924.0 1163.3L925.0 1163.5L926.0 1163.7L927.0 1163.9L928.0 1163.5L929.0 1163.0L930.0 1162.5L931.0 1162.8L932.1 1163.4L933.1 1164.0L934.1 1164.3L935.1 1164.2L936.1 1164.2L937.1 1164.2L938.1 1164.4L939.1 1164.7L940.2 1164.8L941.2 1164.7L942.2 1164.6L943.2 1164.5L944.2 1165.2L945.2 1166.0L946.2 1166.7L947.2 1166.2L948.2 1165.5L949.2 1164.8L950.2 1164.8L951.2 1165.2L952.2 1165.6L953.2 1165.9L954.2 1165.7L955.2 1165.6L956.2 1165.6L957.2 1165.9L958.1 1166.3L959.1 1166.6L960.1 1166.3L961.1 1166.0L962.1 1165.6L963.1 1166.2L964.1 1167.2L965.1 1168.2L966.1 1168.5L967.1 1168.1L968.1 1167.7L969.1 1167.5L970.1 1167.7L971.0 1167.9L972.0 1168.1L973.0 1168.0L974.0 1168.0L975.0 1167.9L976.0 1168.3L977.0 1168.8L978.0 1169.3L979.0 1169.4L980.0 1169.2L981.0 1169.1L982.0 1169.2L983.0 1169.5L983.9 1169.9L984.9 1170.1L985.9 1169.9L986.9 1169.7L987.9 1169.5L988.9 1169.8L989.9 1170.2L990.9 1170.6L991.9 1170.4L992.9 1170.0L993.9 1169.6L994.9 1169.5L995.9 1169.6L996.9 1169.7L997.9 1169.7L998.9 1169.4L999.9 1169.1L1000.9 1168.8L1001.9 1169.1L1002.9 1169.4L1003.9 1169.6L1004.9 1169.4L1005.9 1169.2L1006.9 1168.9L1007.9 1168.9L1008.9 1169.1L1009.9 1169.2L1010.9 1169.0L1011.9 1168.6L1012.9 1168.1L1013.9 1167.9L1014.9 1168.2L1015.8 1168.6L1016.8 1169.0L1017.8 1168.8L1018.8 1168.7L1019.8 1168.6L1020.8 1168.9L1021.8 1169.3L1022.8 1169.7L1023.8 1169.4L1024.8 1168.6L1025.8 1167.9L1026.8 1167.7L1027.8 1168.5L1028.8 1169.3L1029.8 1170.0L1030.8 1170.0L1031.8 1170.0L1032.8 1170.0L1033.8 1170.2L1034.8 1170.3L1035.8 1170.5L1036.8 1170.3L1037.8 1170.0L1038.8 1169.7L1039.8 1170.1L1040.8 1171.2L1041.8 1172.2L1042.7 1172.7L1043.7 1172.2L1044.7 1171.7L1045.7 1171.3L1046.7 1171.8L1047.7 1172.3L1048.7 1172.9L1049.7 1172.5L1050.7 1172.1L1051.7 1171.6L1052.7 1172.0L1053.7 1172.6L1054.7 1173.3L1055.7 1173.4L1056.7 1173.2L1057.7 1172.9L1058.7 1172.8L1059.7 1173.1L1060.7 1173.5L1061.6 1173.9L1062.6 1173.9L1063.6 1173.9L1064.6 1173.9L1065.6 1174.2L1066.6 1174.7L1067.6 1175.1L1068.6 1175.2L1069.6 1174.9L1070.6 1174.7L1071.6 1174.8L1072.6 1175.4L1073.6 1176.0L1074.6 1176.5L1075.6 1176.0L1076.5 1175.5L1077.5 1175.0L1078.5 1175.6L1079.5 1176.3L1080.5 1177.1L1081.5 1177.0L1082.5 1176.6L1083.5 1176.3L1084.5 1176.2L1085.5 1176.5L1086.5 1176.7L1087.5 1176.8L1088.5 1176.5L1089.5 1176.2L1090.5 1176.0L1091.5 1176.4L1092.5 1176.8L1093.5 1177.2L1094.4 1176.6L1095.4 1175.8L1096.4 1175.0L1097.4 1174.8L1098.4 1175.0L1099.4 1175.1L1100.4 1175.1L1101.4 1174.7L1102.4 1174.4L1103.4 1174.3L1104.4 1175.1L1105.4 1176.0L1106.4 1176.9L1107.4 1176.5L1108.4 1176.1L1109.4 1175.7L1110.4 1175.9L1111.3 1176.3L1112.3 1176.7L1113.3 1176.7L1114.3 1176.3L1115.3 1176.0L1116.3 1175.9L1117.3 1176.5L1118.3 1177.0L1119.3 1177.5L1120.3 1177.4L1121.3 1177.3L1122.3 1177.2L1123.3 1177.4L1124.3 1177.7L1125.3 1177.9L1126.3 1177.9L1127.3 1177.8L1128.3 1177.6L1129.3 1177.8L1130.3 1178.3L1131.3 1178.9L1132.2 1179.2L1133.2 1179.0L1134.2 1178.8L1135.2 1178.6L1136.2 1179.0L1137.2 1179.4L1138.2 1179.8L1139.2 1179.4L1140.2 1178.9L1141.2 1178.3L1142.2 1178.4L1143.2 1178.7L1144.2 1179.1L1145.2 1179.3L1146.2 1179.1L1147.2 1179.0L1148.2 1178.9L1149.2 1179.3L1150.2 1179.6L1151.2 1179.9L1152.2 1179.8L1153.2 1179.7L1154.2 1179.6L1155.2 1179.8L1156.2 1180.1L1157.2 1180.4L1158.2 1180.4L1159.2 1180.3L1160.2 1180.3L1161.2 1180.3L1162.2 1180.5L1163.2 1180.8L1164.2 1180.9L1165.2 1180.8L1166.2 1180.7L1167.2 1180.6L1168.2 1181.1L1169.2 1181.6L1170.2 1182.1L1171.2 1181.7L1172.2 1181.0L1173.2 1180.3L1174.2 1180.4L1175.2 1181.0L1176.2 1181.6L1177.2 1181.8L1178.2 1181.4L1179.2 1181.0L1180.2 1180.8L1181.2 1181.3L1182.2 1181.9L1183.2 1182.5L1184.2 1182.2L1185.2 1181.9L1186.2 1181.5L1187.2 1181.6L1188.2 1181.8L1189.2 1182.0L1190.1 1181.6L1191.1 1180.9L1192.1 1180.1L1193.1 1179.9L1194.1 1180.8L1195.1 1181.7L1196.1 1182.5L1197.1 1182.0L1198.1 1181.5L1199.1 1181.0L1200.1 1181.1L1201.1 1181.3L1202.1 1181.5L1203.1 1181.2L1204.1 1180.8L1205.0 1180.3L1206.0 1180.1L1207.0 1180.1L1208.0 1180.2L1209.0 1180.1L1210.0 1179.5L1211.0 1178.8L1211.9 1178.2L1212.9 1178.4L1213.9 1178.6L1214.9 1178.9L1215.8 1178.1L1216.8 1176.9L1217.8 1175.6L1218.7 1175.0L1219.6 1175.7L1220.6 1176.3L1221.5 1176.9L1222.4 1176.2L1223.3 1175.3L1224.2 1174.4L1225.0 1173.7L1225.9 1173.6L1226.8 1173.6L1227.7 1173.6L1228.6 1173.0L1229.5 1172.0L1230.4 1171.1L1231.3 1170.4L1232.2 1170.8L1233.1 1171.4L1234.1 1172.0L1235.1 1171.7L1236.0 1171.1L1237.0 1170.4L1238.0 1170.5L1239.0 1171.4L1240.0 1172.4L1241.0 1173.1L1242.0 1173.0L1243.0 1172.9L1243.9 1172.7L1244.9 1173.3L1245.9 1174.0L1246.9 1174.7L1247.8 1174.9L1248.8 1174.8L1249.8 1174.7L1250.7 1174.8L1251.7 1175.2L1252.7 1175.5L1253.6 1175.9L1254.6 1176.1L1255.6 1176.3L1256.5 1176.6L1257.5 1177.0L1258.5 1177.4L1259.5 1177.8L1260.4 1177.9L1261.4 1177.8L1262.4 1177.6L1263.4 1177.4L1264.3 1177.7L1265.3 1178.0L1266.3 1178.3L1267.3 1178.1L1268.3 1177.8L1269.3 1177.5L1270.3 1177.6L1271.3 1177.9L1272.2 1178.1L1273.2 1178.1L1274.2 1177.5L1275.2 1177.0L1276.2 1176.6L1277.2 1176.7L1278.2 1176.7L1279.2 1176.8L1280.2 1176.3L1281.2 1175.9L1282.2 1175.5L1283.2 1175.5L1284.2 1175.6L1285.2 1175.8L1286.2 1175.7L1287.2 1175.6L1288.2 1175.5L1289.2 1175.4L1290.1 1175.6L1291.1 1175.8L1292.1 1176.0L1293.1 1175.9L1294.1 1175.8L1295.1 1175.8L1296.1 1176.3L1297.1 1176.8L1298.0 1177.4L1299.0 1177.7L1300.0 1177.8L1301.0 1177.9L1302.0 1178.3L1303.0 1178.9L1303.9 1179.4L1304.9 1179.7L1305.9 1179.6L1306.9 1179.5L1307.9 1179.4L1308.9 1179.7L1309.8 1180.1L1310.8 1180.4L1311.8 1180.5L1312.8 1180.5L1313.8 1180.3L1314.7 1180.3L1315.7 1180.3L1316.7 1180.3L1317.7 1180.2L1318.7 1179.9L1319.7 1179.5L1320.6 1179.1L1321.6 1178.9L1322.6 1178.8L1323.6 1178.7L1324.5 1178.6L1325.5 1178.4L1326.5 1178.4L1327.4 1178.5L1328.4 1178.7L1329.3 1179.1L1330.2 1179.5L1331.2 1179.7L1332.1 1180.0L1333.0 1180.4L1333.9 1180.8L1334.8 1181.3L1335.8 1181.8L1336.7 1182.4L1337.6 1182.8L1338.6 1183.1L1339.5 1183.4L1340.4 1183.7L1341.4 1184.1L1342.3 1184.5L1343.3 1184.7L1344.3 1184.7L1345.3 1184.7L1346.2 1184.6L1347.2 1184.8L1348.2 1185.1L1349.2 1185.4L1350.2 1185.5L1351.2 1185.6L1352.2 1185.6L1353.2 1185.7L1354.2 1185.8L1355.2 1185.9L1356.2 1186.0L1357.2 1186.0L1358.2 1186.0L1359.2 1186.1L1360.2 1186.2L1361.2 1186.4L1362.2 1186.6L1363.2 1186.7L1364.2 1186.7L1365.2 1186.7L1366.2 1186.9L1367.2 1187.1L1368.2 1187.4L1369.2 1187.6L1370.1 1187.6L1371.1 1187.7L1372.1 1187.8L1373.0 1188.2L1374.0 1188.6L1375.0 1189.1L1375.9 1189.3L1376.9 1189.4L1377.8 1189.6L1378.8 1189.8L1379.8 1190.1L1380.7 1190.5L1381.7 1190.8L1382.6 1191.0L1383.6 1191.2L1384.6 1191.4L1385.5 1191.7L1386.5 1192.1L1387.5 1192.5L1388.4 1192.8L1389.4 1193.0L1390.4 1193.2L1391.3 1193.4L1392.3 1193.7L1393.3 1193.9L1394.3 1194.2L1395.2 1194.4L1396.2 1194.6L1397.2 1194.8L1398.1 1195.1L1399.1 1195.4L1400.1 1195.7L1401.1 1195.9L1402.0 1196.1L1403.0 1196.2L1404.0 1196.4L1405.0 1196.7L1405.9 1197.1L1406.9 1197.4L1407.9 1197.5L1408.9 1197.6L1409.8 1197.6L1410.8 1197.8L1411.8 1198.1L1412.8 1198.4L1413.7 1198.7L1414.7 1198.9L1415.7 1199.1L1416.7 1199.2L1417.6 1199.6L1418.6 1199.9L1419.6 1200.3L1420.6 1200.5L1421.6 1200.6L1422.5 1200.7L1423.5 1200.8L1424.5 1201.2L1425.5 1201.5L1426.4 1201.9L1427.4 1201.9L1428.4 1202.0L1429.4 1202.0L1430.4 1202.2L1431.3 1202.5L1432.3 1202.8L1433.3 1203.0L1434.3 1203.0L1435.3 1203.1L1436.3 1203.2L1437.2 1203.5L1438.2 1203.9L1439.2 1204.2L1440.2 1204.3L1441.2 1204.3L1442.2 1204.3L1443.1 1204.5L1444.1 1204.8L1445.1 1205.1L1446.1 1205.2L1447.1 1205.3L1448.1 1205.3L1449.1 1205.4L1450.1 1205.7L1451.1 1205.9L1452.1 1206.2L1453.1 1206.2L1454.0 1206.3L1455.0 1206.3L1456.0 1206.5L1457.0 1206.7L1458.0 1206.9L1459.0 1206.9L1460.0 1206.9L1461.0 1206.8L1462.0 1206.8L1463.0 1206.9L1464.0 1206.9L1465.0 1207.0L1466.0 1206.9L1467.0 1206.8L1468.0 1206.6L1469.0 1206.8L1470.0 1206.9L1471.0 1207.0L1472.0 1206.9L1473.0 1206.8L1474.0 1206.7L1475.0 1206.6L1476.0 1206.7L1477.0 1206.7L1478.0 1206.7L1479.0 1206.6L1480.0 1206.5L1481.0 1206.4L1482.0 1206.4L1483.0 1206.4L1484.0 1206.5L1485.0 1206.3L1486.0 1206.2L1487.0 1206.1L1488.0 1206.1L1489.0 1206.2L1490.0 1206.3L1491.0 1206.3L1492.0 1206.2L1493.0 1206.2L1494.0 1206.2L1495.0 1206.3L1496.0 1206.4L1497.0 1206.5L1498.0 1206.5L1499.0 1206.5L1500.0 1206.5L1501.0 1206.8L1501.9 1207.1L1502.9 1207.5L1503.9 1207.6L1504.9 1207.6L1505.9 1207.6L1506.9 1207.7L1507.9 1207.9L1508.9 1208.0L1509.9 1208.2L1510.9 1208.3L1511.9 1208.3L1512.9 1208.4L1513.9 1208.6L1514.9 1208.7L1515.9 1208.9L1516.9 1208.8L1517.9 1208.6L1518.9 1208.5L1519.9 1208.5L1520.9 1208.6L1521.9 1208.8L1522.9 1208.8L1523.9 1208.7L1524.8 1208.5L1525.8 1208.4L1526.8 1208.4L1527.8 1208.5L1528.8 1208.5L1529.8 1208.3L1530.8 1208.1L1531.8 1207.9L1532.8 1207.9L1533.8 1207.9L1534.8 1207.9L1535.8 1207.8L1536.8 1207.7L1537.8 1207.6L1538.8 1207.6L1539.8 1207.7L1540.8 1207.7L1541.8 1207.8L1542.8 1207.6L1543.8 1207.4L1544.8 1207.2L1545.8 1207.4L1546.8 1207.7L1547.8 1207.9L1548.8 1207.7L1549.8 1207.5L1550.8 1207.3L1551.8 1207.3L1552.8 1207.4L1553.8 1207.6L1554.8 1207.6L1555.8 1207.3L1556.8 1207.1L1557.8 1206.9L1558.8 1207.0L1559.8 1207.1L1560.8 1207.3L1561.8 1207.1L1562.8 1207.0L1563.8 1206.9L1564.8 1206.9L1565.8 1206.9L1566.8 1206.9L1567.8 1206.9L1568.8 1206.8L1569.8 1206.6L1570.8 1206.5L1571.8 1206.5L1572.8 1206.5L1573.8 1206.5L1574.8 1206.4L1575.8 1206.3L1576.8 1206.1L1577.8 1206.1L1578.8 1206.0L1579.8 1205.9L1580.8 1205.7L1581.8 1205.6L1582.8 1205.4L1583.8 1205.3L1584.8 1205.3L1585.8 1205.4L1586.7 1205.3L1587.7 1205.0L1588.7 1204.8L1589.7 1204.5L1590.7 1204.4L1591.7 1204.3L1592.6 1204.1L1593.6 1203.8L1594.6 1203.5L1595.6 1203.2L1596.6 1203.0L1597.6 1203.0L1598.5 1203.0L1599.5 1202.9L1600.5 1202.5L1601.5 1202.2L1602.5 1201.9L1603.5 1201.9L1604.5 1201.9L1605.5 1201.9L1606.5 1202.0L1607.4 1202.1L1608.4 1202.2L1609.3 1202.5L1610.3 1202.9L1611.2 1203.4L1612.2 1203.8L1613.1 1204.1L1614.1 1204.4L1615.0 1204.7L1616.0 1205.0L1616.9 1205.2L1617.9 1205.4L1618.9 1205.5L1619.9 1205.4L1621.0 1205.3L1622.0 1205.3L1623.0 1205.4L1624.0 1205.5L1625.0 1205.5L1626.0 1205.5L1627.0 1205.4L1627.9 1205.3L1628.8 1205.1L1629.6 1204.9L1630.5 1204.5L1631.3 1204.0L1632.1 1203.3L1632.9 1202.5L1633.6 1201.7L1634.4 1200.8L1635.1 1200.1L1635.7 1199.5L1636.4 1198.8L1636.9 1198.1L1637.5 1197.4L1638.0 1196.5L1638.5 1195.6L1638.9 1194.6L1639.4 1193.7L1639.8 1192.7L1640.2 1191.7L1640.6 1190.8L1641.0 1189.8L1641.4 1188.9L1641.7 1187.9L1642.1 1186.9L1642.4 1186.0L1642.8 1185.0L1643.2 1184.1L1643.5 1183.1L1643.9 1182.2L1644.2 1181.2L1644.5 1180.3L1644.9 1179.3L1645.2 1178.4L1645.5 1177.4L1645.8 1176.5L1646.1 1175.5L1646.4 1174.6L1646.7 1173.6L1647.0 1172.6L1647.3 1171.7L1647.7 1170.7L1648.0 1169.8L1648.3 1168.9L1648.7 1167.9L1649.0 1167.0L1649.4 1166.1L1649.8 1165.2L1650.2 1164.3L1650.7 1163.4L1651.1 1162.5L1651.6 1161.7L1652.1 1160.8L1652.6 1160.0L1653.2 1159.1L1653.7 1158.3L1654.2 1157.4L1654.8 1156.6L1655.4 1155.8L1655.9 1154.9L1656.5 1154.1L1657.1 1153.3L1657.6 1152.4L1658.2 1151.6L1658.7 1150.7L1659.3 1149.9L1659.8 1149.1L1660.4 1148.2L1661.0 1147.4L1661.5 1146.6L1662.1 1145.8L1662.7 1144.9L1663.2 1144.1L1663.8 1143.3L1664.4 1142.5L1664.9 1141.6L1665.5 1140.8L1666.1 1140.0L1666.6 1139.1L1667.2 1138.3L1667.7 1137.5L1668.2 1136.6L1668.7 1135.8L1669.3 1134.9L1669.8 1134.1L1670.3 1133.2L1670.7 1132.3L1671.2 1131.4L1671.7 1130.6L1672.2 1129.7L1672.7 1128.8L1673.1 1127.9L1673.6 1127.0L1674.0 1126.1L1674.5 1125.2L1674.9 1124.3L1675.3 1123.4L1675.7 1122.5L1676.1 1121.6L1676.5 1120.7L1676.9 1119.7L1677.3 1118.8L1677.6 1117.9L1678.0 1117.0L1678.4 1116.0L1678.7 1115.1L1679.0 1114.2L1679.4 1113.2L1679.7 1112.3L1680.0 1111.3L1680.4 1110.4L1680.7 1109.4L1681.0 1108.5L1681.3 1107.5L1681.6 1106.6L1681.9 1105.6L1682.2 1104.6L1682.5 1103.7L1682.8 1102.7L1683.1 1101.8L1683.3 1100.8L1683.6 1099.8L1683.9 1098.9L1684.2 1097.9L1684.4 1097.0L1684.7 1096.0L1685.0 1095.0L1685.2 1094.1L1685.5 1093.1L1685.8 1092.1L1686.0 1091.2L1686.3 1090.2L1686.5 1089.2L1686.7 1088.3L1687.0 1087.3L1687.2 1086.3L1687.5 1085.3L1687.7 1084.4L1687.9 1083.4L1688.2 1082.4L1688.4 1081.5L1688.6 1080.5L1688.8 1079.5L1689.1 1078.5L1689.3 1077.6L1689.5 1076.6L1689.7 1075.6L1689.9 1074.6L1690.1 1073.6L1690.3 1072.7L1690.5 1071.7L1690.7 1070.7L1690.9 1069.7L1691.1 1068.7L1691.2 1067.7L1691.4 1066.7L1691.6 1065.8L1691.8 1064.8L1692.0 1063.8L1692.2 1062.8L1692.4 1061.9L1692.7 1060.9L1692.9 1059.9L1693.1 1058.9L1693.4 1058.0L1693.7 1057.0L1693.9 1056.1L1694.2 1055.1L1694.5 1054.2L1694.9 1053.2L1695.2 1052.3L1695.5 1051.3L1695.9 1050.4L1696.2 1049.5L1696.6 1048.5L1696.9 1047.6L1697.3 1046.7L1697.7 1045.7L1698.0 1044.8L1698.4 1043.9L1698.8 1042.9L1699.1 1042.0L1699.5 1041.1L1699.9 1040.1L1700.2 1039.2L1700.6 1038.2L1700.9 1037.3L1701.3 1036.4L1701.7 1035.4L1702.0 1034.5L1702.4 1033.6L1702.8 1032.7L1703.1 1031.7L1703.5 1030.8L1703.9 1029.9L1704.2 1028.9L1704.6 1028.0L1705.0 1027.1L1705.4 1026.2L1705.7 1025.2L1706.1 1024.3L1706.5 1023.4L1706.8 1022.4L1707.2 1021.5L1707.5 1020.6L1707.9 1019.6L1708.2 1018.7L1708.6 1017.7L1708.9 1016.8L1709.2 1015.9L1709.5 1014.9L1709.8 1014.0L1710.1 1013.0L1710.4 1012.1L1710.7 1011.1L1711.0 1010.2L1711.3 1009.2L1711.6 1008.2L1711.9 1007.3L1712.2 1006.3L1712.5 1005.4L1712.8 1004.4L1713.1 1003.4L1713.3 1002.5L1713.6 1001.5L1713.9 1000.5L1714.1 999.6L1714.4 998.6L1714.7 997.6L1714.9 996.7L1715.2 995.7L1715.4 994.7L1715.7 993.8L1715.9 992.8L1716.2 991.8L1716.4 990.9L1716.6 989.9L1716.8 988.9L1717.1 987.9L1717.3 987.0L1717.5 986.0L1717.7 985.0L1717.9 984.0L1718.1 983.1L1718.3 982.1L1718.5 981.1L1718.7 980.1L1718.9 979.1L1719.1 978.2L1719.3 977.2L1719.5 976.2L1719.7 975.2L1719.8 974.2L1720.0 973.2L1720.2 972.3L1720.4 971.3L1720.6 970.3L1720.8 969.3L1721.0 968.3L1721.2 967.3L1721.3 966.4L1721.5 965.4L1721.7 964.4L1721.9 963.4L1722.1 962.4L1722.3 961.4L1722.5 960.5L1722.7 959.5L1722.8 958.5L1723.0 957.5L1723.2 956.5L1723.3 955.5L1723.5 954.5L1723.7 953.5L1723.8 952.5L1724.0 951.5L1724.2 950.5L1724.3 949.5L1724.5 948.5L1724.7 947.5L1724.9 946.5L1725.1 945.5L1725.3 944.6L1725.5 943.6L1725.7 942.6L1725.9 941.6L1726.1 940.7L1726.4 939.7L1726.6 938.8L1726.9 937.8L1727.2 936.9L1727.5 935.9L1727.8 934.9L1728.2 933.8L1728.6 932.7L1729.0 931.6L1729.4 930.5L1729.9 929.4L1730.4 928.4L1730.9 927.4L1731.5 926.5L1732.0 925.8L1732.5 925.3L1733.0 924.9L1733.6 924.8L1734.1 924.9L1734.7 925.1L1735.3 925.6L1735.8 926.3L1736.4 927.1L1737.0 928.0L1737.6 929.0L1738.1 930.0L1738.6 931.1L1739.1 932.1L1739.5 933.1L1739.9 934.1L1740.3 935.1L1740.6 936.0L1740.9 937.0L1741.2 937.9L1741.4 938.9L1741.7 939.8L1741.9 940.8L1742.1 941.8L1742.3 942.7L1742.5 943.7L1742.7 944.7L1742.9 945.7L1743.1 946.7L1743.3 947.7L1743.5 948.7L1743.7 949.7L1743.9 950.7L1744.1 951.7L1744.3 952.7L1744.5 953.7L1744.7 954.7L1744.9 955.6L1745.2 956.6L1745.4 957.6L1745.6 958.6L1745.9 959.5L1746.1 960.5L1746.4 961.5L1746.6 962.4L1746.9 963.4L1747.2 964.4L1747.4 965.3L1747.7 966.3L1748.0 967.3L1748.2 968.2L1748.5 969.2L1748.8 970.1L1749.0 971.1L1749.3 972.1L1749.6 973.0L1749.9 974.0L1750.2 975.0L1750.5 975.9L1750.7 976.9L1751.0 977.8L1751.3 978.8L1751.6 979.7L1751.9 980.6L1752.1 981.3L1752.3 981.9L1752.4 982.4"/>
<path d="M148.9 1442.2L149.4 1442.1L150.1 1442.2L151.0 1442.6L152.0 1443.0L153.0 1443.4L154.0 1443.1L155.0 1442.8L156.0 1442.4L157.0 1442.6L158.0 1442.8L159.0 1443.0L160.0 1442.9L161.0 1442.7L162.0 1442.5L163.0 1442.9L164.0 1443.6L165.0 1444.3L166.0 1444.4L167.0 1443.8L168.0 1443.2L169.0 1442.7L170.0 1442.9L171.0 1443.1L172.0 1443.3L173.0 1442.8L174.0 1442.2L175.0 1441.7L176.0 1442.1L177.0 1442.8L178.0 1443.6L179.0 1443.8L180.0 1443.6L181.0 1443.5L182.0 1443.6L182.9 1444.4L183.9 1445.2L184.9 1445.7L185.9 1444.6L186.9 1443.5L187.9 1442.4L188.9 1443.6L189.9 1444.9L190.9 1446.2L191.9 1446.1L192.9 1445.3L193.9 1444.5L194.9 1444.3L195.9 1444.9L196.9 1445.4L197.9 1445.7L198.9 1445.5L199.9 1445.2L200.9 1445.0L201.9 1445.6L202.8 1446.2L203.8 1446.8L204.8 1446.6L205.8 1446.4L206.8 1446.1L207.8 1446.2L208.8 1446.6L209.8 1447.1L210.8 1447.3L211.8 1447.4L212.8 1447.4L213.8 1447.5L214.7 1447.9L215.7 1448.3L216.7 1448.7L217.7 1448.3L218.7 1447.9L219.7 1447.4L220.7 1447.7L221.7 1448.2L222.7 1448.7L223.7 1448.9L224.6 1448.8L225.6 1448.7L226.6 1448.7L227.6 1449.4L228.6 1450.0L229.6 1450.7L230.6 1449.8L231.6 1449.0L232.6 1448.2L233.6 1448.7L234.6 1449.6L235.5 1450.6L236.5 1451.0L237.5 1450.9L238.5 1450.8L239.5 1450.9L240.5 1451.4L241.5 1452.0L242.5 1452.4L243.5 1451.7L244.5 1451.1L245.5 1450.5L246.5 1450.8L247.5 1451.2L248.5 1451.6L249.5 1451.6L250.5 1451.3L251.5 1451.1L252.5 1451.2L253.5 1451.7L254.5 1452.2L255.5 1452.5L256.5 1452.0L257.5 1451.6L258.5 1451.2L259.5 1451.8L260.5 1452.3L261.5 1452.9L262.5 1452.7L263.5 1452.4L264.5 1452.2L265.5 1452.3L266.5 1452.7L267.5 1453.1L268.5 1453.0L269.5 1452.5L270.5 1452.0L271.5 1451.8L272.6 1452.4L273.6 1452.9L274.6 1453.3L275.6 1453.0L276.6 1452.6L277.6 1452.3L278.6 1452.7L279.6 1453.0L280.7 1453.4L281.7 1453.2L282.6 1452.9L283.6 1452.6L284.6 1452.6L285.6 1452.8L286.6 1453.0L287.6 1453.1L288.5 1453.0L289.5 1452.9L290.5 1452.7L291.4 1453.0L292.4 1453.3L293.3 1453.4L294.3 1452.7L295.2 1451.7L296.0 1450.6L296.8 1449.7L297.6 1449.3L298.4 1448.8L299.1 1448.3L299.8 1447.6L300.4 1446.9L301.1 1446.0L301.7 1445.1L302.3 1444.3L302.9 1443.4L303.4 1442.5L303.9 1441.7L304.4 1440.8L304.9 1439.9L305.3 1439.1L305.8 1438.2L306.2 1437.3L306.6 1436.4L307.0 1435.5L307.3 1434.6L307.7 1433.6L308.0 1432.7L308.4 1431.7L308.7 1430.8L309.0 1429.8L309.4 1428.9L309.7 1427.9L310.0 1427.0L310.3 1426.0L310.6 1425.0L310.9 1424.1L311.3 1423.1L311.6 1422.2L311.9 1421.2L312.3 1420.3L312.6 1419.3L312.9 1418.4L313.3 1417.4L313.6 1416.5L314.0 1415.6L314.3 1414.6L314.7 1413.7L315.1 1412.7L315.4 1411.8L315.8 1410.9L316.1 1409.9L316.4 1409.0L316.8 1408.1L317.1 1407.1L317.4 1406.2L317.8 1405.2L318.1 1404.3L318.4 1403.3L318.7 1402.4L318.9 1401.4L319.2 1400.4L319.5 1399.5L319.7 1398.5L320.0 1397.6L320.3 1396.6L320.5 1395.6L320.7 1394.7L321.0 1393.7L321.2 1392.7L321.5 1391.7L321.7 1390.8L321.9 1389.8L322.2 1388.8L322.4 1387.8L322.6 1386.9L322.8 1385.9L323.1 1384.9L323.3 1383.9L323.6 1383.0L323.8 1382.0L324.0 1381.0L324.3 1380.1L324.5 1379.1L324.8 1378.1L325.0 1377.1L325.2 1376.2L325.5 1375.2L325.7 1374.2L326.0 1373.3L326.2 1372.3L326.4 1371.3L326.7 1370.4L326.9 1369.4L327.2 1368.4L327.4 1367.4L327.6 1366.5L327.9 1365.5L328.1 1364.5L328.4 1363.6L328.6 1362.6L328.9 1361.6L329.1 1360.7L329.4 1359.7L329.6 1358.7L329.9 1357.8L330.2 1356.8L330.4 1355.8L330.7 1354.9L331.0 1353.9L331.2 1352.9L331.5 1352.0L331.8 1351.0L332.1 1350.1L332.3 1349.1L332.6 1348.1L332.9 1347.2L333.2 1346.2L333.5 1345.3L333.8 1344.3L334.0 1343.3L334.3 1342.4L334.6 1341.4L334.9 1340.5L335.2 1339.5L335.5 1338.6L335.8 1337.6L336.1 1336.6L336.4 1335.7L336.7 1334.7L337.0 1333.8L337.3 1332.8L337.6 1331.9L337.9 1330.9L338.2 1330.0L338.5 1329.0L338.8 1328.1L339.1 1327.1L339.4 1326.2L339.7 1325.2L340.0 1324.3L340.3 1323.3L340.7 1322.4L341.0 1321.4L341.3 1320.5L341.6 1319.5L341.9 1318.6L342.2 1317.6L342.6 1316.7L342.9 1315.7L343.2 1314.8L343.5 1313.8L343.9 1312.9L344.2 1311.9L344.5 1311.0L344.8 1310.0L345.1 1309.1L345.5 1308.2L345.8 1307.2L346.1 1306.3L346.4 1305.3L346.7 1304.4L347.1 1303.4L347.4 1302.5L347.7 1301.5L348.0 1300.6L348.3 1299.6L348.6 1298.7L349.0 1297.7L349.3 1296.8L349.6 1295.8L349.9 1294.9L350.2 1293.9L350.5 1293.0L350.8 1292.0L351.1 1291.1L351.4 1290.1L351.8 1289.2L352.1 1288.2L352.4 1287.3L352.7 1286.3L353.0 1285.4L353.3 1284.4L353.6 1283.5L354.0 1282.5L354.3 1281.6L354.6 1280.6L354.9 1279.7L355.2 1278.7L355.6 1277.8L355.9 1276.8L356.2 1275.9L356.5 1274.9L356.8 1274.0L357.2 1273.1L357.5 1272.1L357.8 1271.2L358.2 1270.2L358.5 1269.3L358.8 1268.3L359.2 1267.4L359.5 1266.5L359.8 1265.5L360.2 1264.6L360.5 1263.6L360.8 1262.7L361.2 1261.7L361.5 1260.8L361.9 1259.9L362.2 1258.9L362.6 1258.0L362.9 1257.0L363.2 1256.1L363.6 1255.2L363.9 1254.2L364.3 1253.3L364.6 1252.4L365.0 1251.4L365.3 1250.5L365.7 1249.5L366.0 1248.6L366.4 1247.7L366.7 1246.7L367.1 1245.8L367.5 1244.9L367.8 1243.9L368.2 1243.0L368.5 1242.1L368.9 1241.1L369.2 1240.2L369.6 1239.3L370.0 1238.3L370.3 1237.4L370.7 1236.5L371.1 1235.5L371.4 1234.6L371.8 1233.7L372.2 1232.8L372.5 1231.8L372.9 1230.9L373.3 1230.0L373.7 1229.0L374.0 1228.1L374.4 1227.2L374.8 1226.3L375.2 1225.3L375.6 1224.4L375.9 1223.5L376.3 1222.6L376.7 1221.6L377.1 1220.7L377.5 1219.8L377.9 1218.9L378.3 1218.0L378.7 1217.0L379.0 1216.1L379.4 1215.2L379.8 1214.3L380.2 1213.4L380.6 1212.4L381.0 1211.5L381.4 1210.6L381.8 1209.7L382.2 1208.8L382.6 1207.9L383.0 1206.9L383.4 1206.0L383.8 1205.1L384.3 1204.2L384.7 1203.3L385.1 1202.4L385.5 1201.5L385.9 1200.6L386.4 1199.7L386.8 1198.8L387.2 1197.9L387.7 1197.0L388.1 1196.1L388.5 1195.2L389.0 1194.3L389.4 1193.4L389.9 1192.5L390.3 1191.6L390.8 1190.7L391.3 1189.8L391.7 1188.9L392.2 1188.0L392.7 1187.2L393.1 1186.3L393.6 1185.4L394.1 1184.5L394.6 1183.6L395.1 1182.8L395.6 1181.9L396.0 1181.0L396.5 1180.2L397.1 1179.3L397.6 1178.4L398.1 1177.6L398.6 1176.7L399.1 1175.9L399.6 1175.0L400.2 1174.2L400.7 1173.3L401.3 1172.5L401.8 1171.6L402.3 1170.8L402.9 1170.0L403.5 1169.1L404.0 1168.3L404.6 1167.5L405.2 1166.7L405.8 1165.9L406.4 1165.1L407.0 1164.3L407.6 1163.5L408.2 1162.7L408.8 1161.9L409.4 1161.1L410.1 1160.4L410.7 1159.6L411.4 1158.8L412.0 1158.1L412.7 1157.3L413.4 1156.6L414.1 1155.8L414.7 1155.1L415.5 1154.4L416.2 1153.7L416.9 1153.0L417.6 1152.3L418.3 1151.7L419.1 1151.0L419.9 1150.3L420.6 1149.6L421.4 1149.0L422.2 1148.4L423.0 1147.7L423.8 1147.2L424.7 1146.6L425.5 1146.1L426.4 1145.6L427.2 1145.2L428.1 1144.7L429.0 1144.3L429.9 1143.9L430.9 1143.6L431.8 1143.2L432.8 1142.9L433.8 1142.6L434.8 1142.4L435.7 1142.3L436.7 1142.2L437.7 1142.1L438.7 1142.1L439.7 1142.2L440.7 1142.3L441.7 1142.5L442.7 1142.6L443.7 1142.8L444.7 1143.0L445.6 1143.3L446.6 1143.5L447.5 1143.8L448.4 1144.2L449.3 1144.6L450.2 1145.0L451.1 1145.5L451.9 1146.0L452.8 1146.6L453.6 1147.2L454.4 1147.8L455.2 1148.4L456.1 1149.0L456.9 1149.6L457.7 1150.2L458.5 1150.8L459.3 1151.4L460.1 1152.0L460.9 1152.6L461.6 1153.2L462.4 1153.9L463.2 1154.5L464.0 1155.1L464.7 1155.8L465.5 1156.4L466.3 1157.1L467.0 1157.7L467.8 1158.3L468.6 1159.0L469.4 1159.6L470.1 1160.3L470.9 1160.9L471.7 1161.5L472.5 1162.2L473.3 1162.8L474.0 1163.4L474.8 1164.0L475.6 1164.7L476.4 1165.3L477.2 1165.9L477.9 1166.5L478.7 1167.2L479.5 1167.8L480.3 1168.5L481.0 1169.1L481.8 1169.8L482.5 1170.4L483.3 1171.1L484.0 1171.8L484.7 1172.4L485.4 1173.1L486.2 1173.8L486.9 1174.5L487.6 1175.2L488.3 1175.9L489.0 1176.6L489.7 1177.4L490.5 1178.1L491.1 1178.8L491.8 1179.6L492.5 1180.3L493.2 1181.0L493.8 1181.8L494.5 1182.6L495.1 1183.3L495.7 1184.1L496.3 1184.9L496.9 1185.7L497.5 1186.5L498.0 1187.3L498.5 1188.2L499.1 1189.0L499.6 1189.8L500.1 1190.7L500.6 1191.6L501.0 1192.4L501.5 1193.3L502.0 1194.2L502.4 1195.1L502.9 1196.0L503.3 1196.9L503.8 1197.8L504.2 1198.7L504.6 1199.6L505.1 1200.5L505.5 1201.5L506.0 1202.4L506.4 1203.3L506.9 1204.2L507.3 1205.0L507.8 1205.9L508.2 1206.8L508.7 1207.7L509.1 1208.6L509.6 1209.5L510.1 1210.4L510.5 1211.3L511.0 1212.2L511.4 1213.1L511.9 1214.0L512.3 1214.9L512.8 1215.8L513.2 1216.7L513.6 1217.5L514.1 1218.4L514.5 1219.3L515.0 1220.2L515.4 1221.1L515.9 1222.0L516.3 1222.9L516.7 1223.8L517.2 1224.7L517.6 1225.6L518.0 1226.5L518.5 1227.4L518.9 1228.3L519.3 1229.2L519.8 1230.1L520.2 1231.0L520.6 1231.9L521.0 1232.9L521.5 1233.8L521.9 1234.7L522.3 1235.6L522.7 1236.5L523.2 1237.4L523.6 1238.3L524.0 1239.2L524.4 1240.1L524.9 1241.0L525.3 1241.9L525.7 1242.8L526.1 1243.7L526.6 1244.6L527.0 1245.5L527.4 1246.4L527.8 1247.3L528.3 1248.2L528.7 1249.1L529.1 1250.0L529.6 1251.0L530.0 1251.9L530.4 1252.8L530.8 1253.7L531.3 1254.6L531.7 1255.5L532.1 1256.4L532.6 1257.3L533.0 1258.2L533.4 1259.1L533.8 1260.0L534.3 1260.9L534.7 1261.8L535.1 1262.7L535.5 1263.6L536.0 1264.5L536.4 1265.4L536.8 1266.3L537.2 1267.2L537.6 1268.1L538.0 1269.1L538.4 1270.0L538.8 1270.9L539.3 1271.8L539.6 1272.7L540.0 1273.6L540.4 1274.6L540.8 1275.5L541.2 1276.4L541.6 1277.3L542.0 1278.3L542.4 1279.2L542.8 1280.1L543.2 1281.0L543.6 1281.9L544.0 1282.8L544.4 1283.8L544.8 1284.7L545.2 1285.6L545.6 1286.5L546.1 1287.4L546.5 1288.3L546.9 1289.2L547.4 1290.1L547.8 1291.0L548.3 1291.9L548.7 1292.8L549.2 1293.6L549.6 1294.5L550.1 1295.4L550.6 1296.3L551.1 1297.2L551.5 1298.0L552.0 1298.9L552.5 1299.8L553.0 1300.7L553.5 1301.5L554.0 1302.4L554.5 1303.3L555.0 1304.1L555.5 1305.0L556.0 1305.9L556.5 1306.7L557.0 1307.6L557.5 1308.5L558.0 1309.3L558.5 1310.2L559.0 1311.1L559.5 1311.9L560.0 1312.8L560.5 1313.7L561.0 1314.5L561.5 1315.4L562.0 1316.3L562.5 1317.1L563.0 1318.0L563.5 1318.9L564.0 1319.7L564.5 1320.6L565.0 1321.4L565.6 1322.3L566.1 1323.2L566.6 1324.0L567.1 1324.9L567.6 1325.7L568.1 1326.6L568.6 1327.5L569.1 1328.3L569.6 1329.2L570.2 1330.0L570.7 1330.9L571.2 1331.8L571.7 1332.6L572.2 1333.5L572.7 1334.3L573.3 1335.2L573.8 1336.0L574.3 1336.9L574.8 1337.8L575.3 1338.6L575.8 1339.5L576.3 1340.3L576.9 1341.2L577.4 1342.1L577.9 1342.9L578.4 1343.8L578.9 1344.6L579.5 1345.5L580.0 1346.3L580.5 1347.2L581.1 1348.0L581.6 1348.9L582.1 1349.7L582.7 1350.5L583.3 1351.3L583.8 1352.2L584.4 1353.0L585.0 1353.8L585.5 1354.6L586.1 1355.5L586.7 1356.3L587.3 1357.1L587.9 1358.0L588.5 1358.8L589.1 1359.6L589.7 1360.4L590.3 1361.2L590.9 1362.0L591.6 1362.8L592.2 1363.5L592.9 1364.2L593.6 1364.9L594.3 1365.6L595.0 1366.3L595.8 1366.9L596.6 1367.6L597.4 1368.2L598.2 1368.9L599.1 1369.5L600.0 1370.0L600.8 1370.5L601.8 1371.0L602.7 1371.3L603.6 1371.5L604.5 1371.7L605.5 1371.8L606.5 1371.9L607.5 1371.9L608.5 1371.9L609.5 1371.9L610.5 1371.9L611.5 1372.0L612.4 1372.2L613.3 1372.5L614.3 1372.9L615.1 1373.4L616.0 1373.9L616.9 1374.5L617.7 1375.0L618.6 1375.4L619.5 1375.6L620.3 1375.6L621.2 1375.4L622.0 1375.1L622.9 1374.6L623.8 1374.0L624.6 1373.4L625.5 1372.8L626.3 1372.1L627.1 1371.4L627.9 1370.8L628.8 1370.1L629.6 1369.4L630.4 1368.8L631.2 1368.2L632.0 1367.8L632.9 1367.5L633.7 1367.4L634.6 1367.4L635.5 1367.6L636.4 1368.0L637.3 1368.4L638.2 1368.9L639.1 1369.4L639.9 1370.0L640.7 1370.6L641.5 1371.2L642.3 1371.8L643.0 1372.4L643.8 1373.1L644.5 1373.8L645.2 1374.6L645.9 1375.3L646.6 1376.0L647.2 1376.6L647.9 1377.3L648.6 1378.0L649.3 1378.8L650.0 1379.7L650.6 1380.6L651.3 1381.5L652.0 1382.3L652.7 1382.9L653.4 1383.5L654.1 1384.2L654.8 1384.8L655.5 1385.5L656.3 1386.4L657.0 1387.3L657.7 1388.2L658.4 1389.1L659.1 1389.6L659.8 1390.2L660.5 1390.7L661.2 1391.2L661.9 1392.0L662.6 1393.0L663.3 1394.0L664.0 1395.0L664.7 1396.1L665.4 1396.5L666.1 1396.9L666.8 1397.3L667.5 1397.7L668.2 1398.4L668.9 1399.6L669.6 1400.8L670.3 1402.0L671.0 1403.3L671.7 1403.8L672.4 1404.0L673.1 1404.2L673.8 1404.4L674.5 1404.7L675.2 1405.6L676.0 1406.4L676.7 1407.3L677.5 1408.2L678.3 1408.6L679.1 1409.0L679.9 1409.4L680.7 1409.7L681.6 1410.3L682.4 1410.9L683.3 1411.4L684.1 1412.0L685.0 1412.3L685.9 1412.6L686.8 1413.0L687.7 1413.5L688.6 1414.3L689.5 1415.0L690.4 1415.8L691.3 1415.9L692.2 1416.0L693.1 1416.1L694.0 1416.5L694.8 1417.2L695.7 1417.9L696.7 1418.6L697.6 1418.9L698.5 1419.1L699.4 1419.4L700.3 1419.8L701.2 1420.4L702.1 1421.1L703.1 1421.8L704.0 1421.9L704.9 1421.9L705.9 1422.0L706.8 1422.2L707.7 1422.9L708.7 1423.6L709.6 1424.2L710.6 1424.2L711.5 1424.2L712.5 1424.2L713.4 1424.4L714.4 1424.8L715.3 1425.2L716.3 1425.5L717.3 1425.8L718.2 1426.0L719.2 1426.2L720.2 1426.5L721.2 1426.9L722.1 1427.3L723.1 1427.5L724.1 1427.6L725.1 1427.6L726.1 1428.0L727.0 1428.8L728.0 1429.6L729.0 1430.1L730.0 1429.5L730.9 1428.8L731.9 1428.2L732.9 1428.8L733.9 1429.5L734.8 1430.2L735.8 1430.4L736.8 1430.5L737.8 1430.5L738.8 1430.6L739.7 1430.9L740.7 1431.2L741.7 1431.4L742.7 1431.5L743.6 1431.6L744.6 1431.8L745.6 1432.2L746.6 1432.6L747.6 1433.1L748.5 1433.2L749.5 1433.2L750.5 1433.1L751.5 1433.2L752.5 1433.5L753.4 1433.7L754.4 1434.0L755.4 1434.1L756.4 1434.3L757.4 1434.4L758.3 1434.7L759.3 1435.1L760.3 1435.5L761.3 1435.7L762.3 1435.7L763.2 1435.6L764.2 1435.7L765.2 1436.2L766.2 1436.7L767.1 1437.2L768.1 1437.1L769.1 1437.0L770.0 1436.9L771.0 1437.2L771.9 1437.7L772.9 1438.3L773.8 1438.8L774.8 1439.0L775.7 1439.3L776.7 1439.6L777.6 1440.0L778.5 1440.5L779.5 1440.9L780.4 1441.3L781.4 1441.4L782.3 1441.5L783.2 1441.6L784.2 1442.3L785.1 1443.1L786.1 1443.8L787.0 1443.9L787.9 1443.7L788.9 1443.5L789.8 1443.5L790.8 1444.3L791.8 1445.0L792.7 1445.8L793.7 1445.6L794.6 1445.3L795.6 1445.0L796.5 1445.3L797.5 1446.0L798.5 1446.8L799.4 1447.4L800.4 1447.6L801.3 1447.7L802.3 1447.9L803.3 1448.5L804.2 1449.1L805.2 1449.7L806.2 1449.7L807.1 1449.4L808.1 1449.1L809.1 1449.1L810.1 1449.6L811.0 1450.1L812.0 1450.7L813.0 1450.7L814.0 1450.7L814.9 1450.7L815.9 1451.0L816.9 1451.4L817.9 1451.9L818.9 1452.0L819.8 1451.9L820.8 1451.8L821.8 1451.9L822.8 1452.3L823.8 1452.8L824.8 1453.2L825.8 1453.0L826.8 1452.7L827.8 1452.4L828.8 1452.6L829.7 1453.1L830.7 1453.6L831.7 1453.8L832.7 1453.9L833.7 1453.9L834.7 1454.1L835.7 1454.4L836.7 1454.7L837.7 1454.9L838.7 1454.9L839.7 1454.8L840.7 1454.8L841.7 1455.2L842.6 1455.6L843.6 1456.1L844.6 1456.0L845.6 1455.7L846.6 1455.3L847.6 1455.3L848.6 1455.7L849.6 1456.1L850.6 1456.4L851.6 1456.4L852.6 1456.5L853.6 1456.5L854.6 1456.8L855.6 1457.1L856.6 1457.4L857.6 1457.2L858.6 1457.0L859.6 1456.7L860.6 1456.6L861.6 1456.8L862.6 1456.9L863.6 1457.0L864.6 1457.0L865.6 1456.9L866.6 1456.9L867.6 1457.0L868.6 1457.0L869.6 1457.0L870.6 1457.0L871.6 1457.0L872.6 1457.0L873.6 1457.1L874.7 1457.2L875.7 1457.4L876.7 1457.1L877.7 1456.7L878.7 1456.3L879.7 1456.3L880.7 1456.8L881.7 1457.3L882.7 1457.6L883.6 1457.2L884.6 1456.7L885.6 1456.3L886.6 1456.7L887.5 1457.2L888.5 1457.8L889.5 1458.0L890.4 1458.1L891.4 1458.2L892.3 1458.5L893.2 1459.2L894.2 1459.8L895.1 1460.3L896.1 1460.2L897.0 1459.8L897.9 1459.3L898.9 1459.0L899.8 1458.8L900.8 1458.6L901.7 1458.3L902.7 1457.5L903.6 1456.8L904.6 1456.1L905.5 1456.0L906.5 1456.2L907.5 1456.5L908.4 1456.4L909.4 1456.0L910.4 1455.6L911.4 1455.3L912.4 1455.3L913.3 1455.3L914.3 1455.3L915.3 1454.9L916.3 1454.5L917.3 1454.2L918.3 1454.2L919.3 1454.3L920.3 1454.5L921.3 1454.6L922.3 1454.6L923.3 1454.7L924.3 1454.8L925.3 1455.0L926.3 1455.3L927.3 1455.6L928.2 1455.6L929.2 1455.5L930.2 1455.5L931.2 1455.6L932.2 1455.8L933.2 1456.0L934.2 1456.2L935.2 1456.3L936.2 1456.5L937.1 1456.7L938.1 1457.0L939.1 1457.4L940.0 1457.8L941.0 1457.7L942.0 1457.7L942.9 1457.6L943.9 1458.2L944.9 1459.1L945.8 1459.9L946.8 1460.3L947.8 1460.2L948.8 1460.0L949.7 1460.0L950.7 1460.5L951.7 1460.9L952.7 1461.4L953.7 1461.3L954.6 1461.1L955.6 1460.8L956.6 1461.0L957.6 1461.4L958.6 1461.8L959.6 1462.1L960.6 1462.1L961.5 1462.1L962.5 1462.2L963.5 1462.8L964.5 1463.3L965.5 1463.9L966.4 1463.8L967.4 1463.6L968.4 1463.4L969.4 1463.6L970.3 1464.0L971.3 1464.5L972.2 1465.0L973.2 1465.1L974.2 1465.3L975.1 1465.5L976.1 1465.9L977.0 1466.4L978.0 1466.9L979.0 1467.1L979.9 1467.1L980.9 1467.1L981.9 1467.2L983.0 1467.3L984.0 1467.4L985.0 1467.3L986.0 1467.1L986.9 1466.9L987.7 1466.8L988.5 1467.4L989.1 1468.3L989.6 1469.4L990.1 1470.7L990.5 1472.0L990.9 1473.3L991.3 1474.4L991.7 1474.9L992.1 1475.1L992.6 1474.9L993.0 1474.3L993.5 1473.5L994.0 1472.4L994.5 1471.3L995.0 1470.5L995.6 1469.8L996.2 1469.2L996.9 1468.8L997.7 1468.4L998.5 1467.6L999.3 1466.8L1000.2 1466.0L1001.1 1465.5L1002.1 1465.6L1003.1 1465.8L1004.1 1465.9L1005.2 1465.3L1006.2 1464.7L1007.3 1464.2L1008.3 1464.1L1009.4 1464.0L1010.4 1464.0L1011.4 1463.6L1012.4 1463.2L1013.4 1462.9L1014.4 1463.4L1015.4 1464.1L1016.4 1464.8L1017.3 1464.9L1018.3 1464.4L1019.3 1464.0L1020.3 1464.1L1021.3 1464.9L1022.3 1465.8L1023.3 1466.5L1024.3 1466.0L1025.3 1465.5L1026.3 1464.9L1027.3 1465.5L1028.3 1466.2L1029.3 1466.9L1030.3 1466.9L1031.3 1466.5L1032.3 1466.0L1033.3 1466.1L1034.3 1466.6L1035.4 1467.2L1036.4 1467.5L1037.4 1467.5L1038.3 1467.5L1039.3 1467.6L1040.2 1468.4L1041.1 1469.3L1042.0 1470.2L1042.8 1470.7L1043.5 1470.7L1044.3 1470.9L1045.0 1471.1L1045.6 1471.5L1046.3 1472.5L1047.0 1473.5L1047.7 1474.4L1048.4 1475.2L1049.2 1475.7L1050.0 1475.7L1050.8 1475.7L1051.7 1475.5L1052.6 1475.9L1053.6 1476.7L1054.6 1477.4L1055.6 1477.9L1056.6 1477.6L1057.6 1477.3L1058.7 1477.2L1059.7 1477.5L1060.8 1477.9L1061.8 1478.0L1062.8 1477.6L1063.8 1477.1L1064.9 1476.6L1065.9 1476.8L1066.9 1477.0L1067.9 1477.2L1068.8 1476.5L1069.8 1475.7L1070.7 1475.0L1071.5 1475.1L1072.2 1476.2L1072.9 1477.5L1073.6 1478.9L1074.2 1480.4L1074.8 1480.8L1075.5 1480.4L1076.1 1479.8L1076.9 1478.9L1077.7 1478.0L1078.6 1478.8L1079.6 1479.5L1080.5 1480.3L1081.5 1479.8L1082.5 1478.9L1083.5 1478.0L1084.5 1477.4L1085.5 1477.3L1086.5 1477.1L1087.5 1476.9L1088.5 1476.5L1089.4 1476.1L1090.4 1475.7L1091.4 1476.3L1092.4 1476.9L1093.4 1477.6L1094.3 1476.7L1095.3 1475.3L1096.3 1473.9L1097.3 1473.5L1098.3 1474.2L1099.3 1474.9L1100.3 1475.3L1101.3 1474.7L1102.3 1474.1L1103.3 1473.6L1104.3 1474.0L1105.3 1474.4L1106.3 1474.9L1107.3 1474.6L1108.3 1474.1L1109.3 1473.7L1110.3 1474.0L1111.3 1474.6L1112.3 1475.3L1113.3 1475.4L1114.3 1474.9L1115.3 1474.4L1116.3 1474.1L1117.3 1474.3L1118.3 1474.5L1119.3 1474.7L1120.3 1474.6L1121.3 1474.4L1122.3 1474.3L1123.3 1474.6L1124.3 1474.9L1125.3 1475.2L1126.3 1475.1L1127.3 1474.8L1128.3 1474.5L1129.3 1474.4L1130.3 1474.5L1131.3 1474.7L1132.3 1474.6L1133.3 1474.3L1134.3 1473.9L1135.3 1473.6L1136.3 1474.3L1137.3 1475.0L1138.3 1475.7L1139.3 1475.2L1140.3 1474.6L1141.3 1474.0L1142.3 1474.0L1143.3 1474.5L1144.3 1474.9L1145.3 1474.9L1146.3 1474.5L1147.3 1474.1L1148.3 1474.0L1149.3 1474.5L1150.3 1475.0L1151.3 1475.4L1152.3 1474.9L1153.3 1474.5L1154.3 1474.0L1155.3 1474.3L1156.3 1474.7L1157.3 1475.0L1158.3 1474.7L1159.3 1473.9L1160.3 1473.2L1161.3 1473.0L1162.3 1473.4L1163.3 1473.7L1164.3 1473.8L1165.3 1473.1L1166.3 1472.4L1167.3 1471.7L1168.2 1472.2L1169.2 1472.6L1170.1 1473.0L1171.1 1472.7L1172.0 1472.1L1172.9 1471.6L1173.8 1471.0L1174.7 1470.7L1175.5 1470.3L1176.4 1469.9L1177.2 1469.3L1178.0 1468.5L1178.9 1467.7L1179.7 1466.8L1180.4 1466.1L1181.2 1465.6L1182.0 1465.0L1182.7 1464.5L1183.4 1463.8L1184.2 1463.0L1185.0 1462.2L1185.8 1461.5L1186.6 1461.0L1187.5 1460.9L1188.4 1460.9L1189.4 1461.1L1190.4 1460.9L1191.4 1460.6L1192.4 1460.3L1193.3 1460.1L1194.3 1460.1L1195.2 1460.0L1196.1 1459.7L1196.9 1458.8L1197.8 1458.0L1198.6 1457.1L1199.3 1456.3L1200.0 1455.8L1200.7 1455.2L1201.4 1454.5L1202.0 1453.8L1202.6 1453.0L1203.1 1452.2L1203.6 1451.4L1204.1 1450.5L1204.6 1449.6L1205.1 1448.7L1205.5 1447.8L1205.9 1446.9L1206.3 1445.9L1206.7 1445.0L1207.1 1444.1L1207.5 1443.1L1207.9 1442.2L1208.2 1441.3L1208.6 1440.3L1208.9 1439.4L1209.2 1438.4L1209.5 1437.5L1209.9 1436.5L1210.2 1435.6L1210.5 1434.6L1210.7 1433.7L1211.0 1432.7L1211.3 1431.8L1211.6 1430.8L1211.9 1429.8L1212.1 1428.9L1212.4 1427.9L1212.7 1426.9L1213.0 1426.0L1213.3 1425.0L1213.5 1424.0L1213.8 1423.1L1214.1 1422.1L1214.4 1421.2L1214.6 1420.2L1214.9 1419.2L1215.2 1418.3L1215.4 1417.3L1215.7 1416.3L1216.0 1415.4L1216.2 1414.4L1216.5 1413.5L1216.7 1412.5L1217.0 1411.5L1217.3 1410.6L1217.5 1409.6L1217.8 1408.6L1218.1 1407.7L1218.3 1406.7L1218.6 1405.7L1218.9 1404.8L1219.2 1403.8L1219.4 1402.9L1219.7 1401.9L1220.0 1400.9L1220.3 1400.0L1220.5 1399.0L1220.8 1398.0L1221.1 1397.1L1221.3 1396.1L1221.6 1395.2L1221.9 1394.2L1222.1 1393.2L1222.4 1392.3L1222.6 1391.3L1222.9 1390.3L1223.1 1389.3L1223.3 1388.4L1223.6 1387.4L1223.8 1386.4L1224.0 1385.4L1224.2 1384.4L1224.4 1383.4L1224.5 1382.5L1224.7 1381.5L1224.9 1380.5L1225.1 1379.5L1225.3 1378.5L1225.5 1377.5L1225.8 1376.6L1226.0 1375.6L1226.2 1374.6L1226.5 1373.7L1226.8 1372.7L1227.1 1371.8L1227.4 1370.9L1227.8 1370.0L1228.2 1369.0L1228.6 1368.1L1229.0 1367.2L1229.5 1366.3L1230.0 1365.4L1230.5 1364.6L1231.0 1363.7L1231.5 1362.8L1232.0 1361.9L1232.5 1361.0L1233.0 1360.1L1233.5 1359.2L1234.1 1358.3L1234.6 1357.5L1235.3 1356.9L1236.0 1356.3L1236.8 1355.8L1237.7 1355.3L1238.7 1355.0L1239.6 1354.8L1240.5 1354.7L1241.4 1354.7L1242.2 1354.8L1243.0 1355.2L1243.6 1355.7L1244.2 1356.4L1244.8 1357.3L1245.4 1358.2L1245.8 1359.2L1246.3 1360.2L1246.7 1361.2L1247.1 1362.2L1247.4 1363.2L1247.7 1364.1L1248.0 1365.1L1248.3 1366.0L1248.6 1367.0L1248.8 1368.0L1249.0 1368.9L1249.3 1369.9L1249.5 1370.9L1249.7 1371.9L1249.9 1372.9L1250.1 1373.9L1250.3 1374.9L1250.6 1375.9L1250.8 1376.8L1251.0 1377.8L1251.2 1378.8L1251.4 1379.8L1251.7 1380.8L1251.9 1381.7L1252.1 1382.7L1252.3 1383.7L1252.5 1384.7L1252.8 1385.6L1253.0 1386.6L1253.2 1387.6L1253.4 1388.6L1253.6 1389.5L1253.8 1390.5L1254.0 1391.5L1254.2 1392.5L1254.5 1393.5L1254.7 1394.4L1254.9 1395.4L1255.1 1396.4L1255.3 1397.4L1255.5 1398.3L1255.7 1399.3L1255.9 1400.3L1256.1 1401.3L1256.3 1402.3L1256.5 1403.2L1256.7 1404.2L1256.9 1405.2L1257.2 1406.2L1257.4 1407.2L1257.6 1408.1L1257.8 1409.1L1258.0 1410.1L1258.3 1411.1L1258.5 1412.0L1258.8 1413.0L1259.0 1414.0L1259.3 1414.9L1259.6 1415.9L1259.9 1416.8L1260.2 1417.8L1260.5 1418.8L1260.8 1419.7L1261.1 1420.7L1261.4 1421.6L1261.8 1422.6L1262.1 1423.5L1262.5 1424.4L1262.9 1425.4L1263.3 1426.3L1263.7 1427.2L1264.1 1428.0L1264.6 1428.9L1265.1 1429.8L1265.6 1430.7L1266.1 1431.5L1266.6 1432.4L1267.2 1433.2L1267.8 1434.0L1268.4 1434.8L1269.0 1435.6L1269.6 1436.4L1270.3 1437.1L1270.9 1437.9L1271.6 1438.6L1272.3 1439.3L1273.0 1440.1L1273.7 1440.8L1274.4 1441.5L1275.2 1442.1L1275.9 1442.8L1276.6 1443.5L1277.3 1444.3L1278.0 1445.0L1278.7 1445.7L1279.4 1446.4L1280.1 1447.2L1280.8 1447.9L1281.5 1448.6L1282.2 1449.3L1282.9 1450.0L1283.6 1450.7L1284.3 1451.4L1285.1 1452.1L1285.8 1452.8L1286.6 1453.4L1287.4 1454.1L1288.2 1454.8L1289.0 1455.5L1289.8 1456.2L1290.6 1456.8L1291.4 1457.4L1292.3 1457.9L1293.2 1458.3L1294.1 1458.5L1295.0 1458.7L1296.0 1458.8L1297.0 1458.9L1298.0 1458.9L1299.0 1458.9L1300.0 1458.9L1300.9 1458.8L1301.8 1458.6L1302.6 1458.4L1303.4 1457.9L1304.1 1457.4L1304.7 1456.7L1305.4 1455.9L1306.0 1455.0L1306.6 1454.1L1307.2 1453.2L1307.8 1452.3L1308.4 1451.4L1309.0 1450.5L1309.6 1449.7L1310.1 1448.9L1310.7 1448.1L1311.3 1447.2L1311.8 1446.4L1312.4 1445.6L1312.9 1444.7L1313.5 1443.9L1314.0 1443.0L1314.5 1442.2L1315.1 1441.3L1315.6 1440.5L1316.2 1439.7L1316.7 1438.8L1317.3 1438.0L1317.8 1437.2L1318.4 1436.3L1318.9 1435.5L1319.5 1434.6L1320.0 1433.8L1320.5 1433.0L1321.1 1432.1L1321.6 1431.3L1322.1 1430.4L1322.6 1429.5L1323.1 1428.6L1323.5 1427.6L1323.9 1426.6L1324.4 1425.6L1324.8 1424.6L1325.2 1423.6L1325.6 1422.6L1326.0 1421.7L1326.5 1420.9L1327.0 1420.2L1327.6 1419.6L1328.4 1419.1L1329.2 1418.7L1330.0 1418.4L1330.9 1418.3L1331.7 1418.3L1332.5 1418.5L1333.3 1418.9L1334.0 1419.5L1334.6 1420.3L1335.2 1421.2L1335.8 1422.2L1336.3 1423.2L1336.9 1424.2L1337.5 1425.2L1338.1 1426.0L1338.8 1426.7L1339.5 1427.2L1340.3 1427.6L1341.1 1427.9L1342.0 1428.1L1342.9 1428.2L1343.9 1428.3L1344.9 1428.4L1346.0 1428.5L1347.0 1428.6L1348.0 1428.7L1349.0 1428.8L1350.0 1429.0L1351.0 1429.2L1352.0 1429.5L1352.9 1429.8L1353.9 1430.1L1354.8 1430.5L1355.7 1430.9L1356.7 1431.3L1357.6 1431.7L1358.5 1432.2L1359.3 1432.6L1360.2 1433.1L1361.1 1433.6L1361.9 1434.1L1362.8 1434.7L1363.6 1435.2L1364.4 1435.8L1365.3 1436.4L1366.0 1437.0L1366.8 1437.7L1367.6 1438.4L1368.3 1439.1L1369.1 1439.8L1369.8 1440.4L1370.6 1441.1L1371.4 1441.7L1372.2 1442.2L1373.0 1442.7L1373.9 1443.2L1374.9 1443.5L1375.8 1443.8L1376.7 1443.9L1377.6 1443.9L1378.5 1443.8L1379.3 1443.5L1380.1 1443.0L1380.8 1442.3L1381.5 1441.6L1382.2 1440.7L1382.8 1439.8L1383.4 1438.9L1383.9 1438.0L1384.4 1437.1L1384.8 1436.2L1385.2 1435.3L1385.6 1434.4L1386.0 1433.5L1386.4 1432.6L1386.7 1431.6L1387.0 1430.7L1387.3 1429.7L1387.6 1428.7L1387.9 1427.7L1388.2 1426.8L1388.5 1425.8L1388.7 1424.8L1389.0 1423.8L1389.2 1422.9L1389.5 1421.9L1389.7 1420.9L1389.9 1420.0L1390.2 1419.0L1390.4 1418.0L1390.6 1417.1L1390.8 1416.1L1391.0 1415.1L1391.2 1414.1L1391.4 1413.1L1391.5 1412.1L1391.7 1411.2L1391.9 1410.2L1392.1 1409.2L1392.3 1408.2L1392.4 1407.2L1392.6 1406.2L1392.8 1405.2L1392.9 1404.2L1393.1 1403.3L1393.3 1402.3L1393.4 1401.3L1393.6 1400.3L1393.8 1399.3L1393.9 1398.3L1394.1 1397.3L1394.3 1396.3L1394.4 1395.4L1394.6 1394.4L1394.7 1393.4L1394.9 1392.4L1395.1 1391.4L1395.2 1390.4L1395.4 1389.4L1395.5 1388.4L1395.7 1387.5L1395.8 1386.5L1396.0 1385.5L1396.1 1384.5L1396.3 1383.5L1396.4 1382.5L1396.6 1381.5L1396.7 1380.5L1396.9 1379.5L1397.0 1378.5L1397.1 1377.6L1397.3 1376.6L1397.4 1375.6L1397.6 1374.6L1397.7 1373.6L1397.9 1372.6L1398.0 1371.6L1398.2 1370.6L1398.3 1369.6L1398.5 1368.7L1398.6 1367.7L1398.8 1366.7L1398.9 1365.7L1399.1 1364.7L1399.2 1363.7L1399.3 1362.7L1399.5 1361.7L1399.6 1360.7L1399.8 1359.7L1399.9 1358.8L1400.1 1357.8L1400.2 1356.8L1400.4 1355.8L1400.5 1354.8L1400.7 1353.8L1400.8 1352.8L1401.0 1351.8L1401.1 1350.8L1401.3 1349.9L1401.5 1348.9L1401.6 1347.9L1401.8 1346.9L1402.0 1345.9L1402.2 1344.9L1402.4 1344.0L1402.5 1343.0L1402.7 1342.0L1402.9 1341.0L1403.1 1340.0L1403.3 1339.0L1403.5 1338.0L1403.7 1337.0L1403.9 1336.1L1404.1 1335.1L1404.3 1334.1L1404.5 1333.1L1404.8 1332.1L1405.0 1331.1L1405.2 1330.2L1405.5 1329.2L1405.7 1328.3L1406.0 1327.3L1406.3 1326.3L1406.6 1325.4L1406.9 1324.5L1407.2 1323.5L1407.5 1322.6L1407.9 1321.7L1408.3 1320.8L1408.7 1319.9L1409.2 1319.0L1409.7 1318.1L1410.1 1317.2L1410.6 1316.4L1411.1 1315.5L1411.6 1314.6L1412.1 1313.7L1412.6 1312.8L1413.0 1311.9L1413.4 1311.0L1413.9 1310.1L1414.2 1309.2L1414.6 1308.2L1414.9 1307.3L1415.3 1306.4L1415.6 1305.4L1415.9 1304.4L1416.2 1303.5L1416.5 1302.5L1416.8 1301.6L1417.1 1300.6L1417.5 1299.7L1417.8 1298.7L1418.2 1297.8L1418.6 1296.9L1419.0 1295.9L1419.5 1294.9L1420.0 1293.9L1420.6 1293.0L1421.1 1292.1L1421.7 1291.4L1422.3 1290.9L1422.9 1290.7L1423.5 1290.7L1424.1 1291.0L1424.7 1291.5L1425.3 1292.3L1425.8 1293.2L1426.4 1294.2L1426.9 1295.2L1427.3 1296.2L1427.7 1297.2L1428.0 1298.2L1428.2 1299.2L1428.5 1300.2L1428.7 1301.1L1428.8 1302.1L1429.0 1303.0L1429.2 1304.0L1429.3 1305.0L1429.4 1306.0L1429.6 1307.0L1429.7 1308.0L1429.8 1309.0L1429.9 1310.0L1430.0 1311.0L1430.1 1312.0L1430.2 1313.1L1430.3 1314.1L1430.4 1315.1L1430.6 1316.1L1430.7 1317.1L1430.8 1318.1L1430.9 1319.1L1431.0 1320.1L1431.1 1321.1L1431.3 1322.1L1431.4 1323.1L1431.5 1324.1L1431.7 1325.1L1431.8 1326.1L1431.9 1327.1L1432.0 1328.1L1432.2 1329.1L1432.3 1330.0L1432.4 1331.0L1432.5 1332.0L1432.7 1333.0L1432.8 1334.0L1432.9 1335.0L1433.0 1336.0L1433.2 1337.0L1433.3 1338.0L1433.4 1339.0L1433.5 1340.0L1433.6 1341.0L1433.8 1342.0L1433.9 1342.9L1434.0 1343.9L1434.1 1344.9L1434.2 1345.9L1434.4 1346.9L1434.5 1347.9L1434.6 1348.9L1434.7 1349.9L1434.8 1350.9L1434.9 1351.9L1435.0 1352.9L1435.1 1353.9L1435.3 1354.9L1435.4 1355.9L1435.5 1356.9L1435.6 1357.8L1435.7 1358.8L1435.8 1359.8L1435.9 1360.8L1436.0 1361.8L1436.2 1362.8L1436.3 1363.8L1436.4 1364.8L1436.5 1365.8L1436.6 1366.8L1436.7 1367.8L1436.9 1368.8L1437.0 1369.8L1437.1 1370.9L1437.2 1372.0L1437.3 1373.1L1437.4 1374.3L1437.5 1375.6L1437.6 1376.8L1437.7 1378.1L1437.7 1379.4L1437.8 1380.7L1437.9 1381.9L1438.0 1383.1L1438.1 1384.3L1438.2 1385.5L1438.4 1386.5L1438.5 1387.5L1438.6 1388.5L1438.8 1389.3L1439.0 1390.0L1439.2 1390.6L1439.5 1391.1L1439.9 1391.4L1440.4 1391.7L1441.0 1391.8L1441.6 1391.9L1442.2 1391.8L1442.8 1391.5L1443.4 1391.1L1443.8 1390.6L1444.1 1389.8L1444.3 1388.9L1444.5 1387.9L1444.7 1386.7L1444.9 1385.5L1445.1 1384.3L1445.3 1383.1L1445.6 1381.9L1445.9 1380.8L1446.3 1379.7L1446.7 1378.7L1447.1 1377.8L1447.6 1377.2L1448.1 1376.8L1448.6 1376.6L1449.0 1376.8L1449.4 1377.3L1449.7 1378.1L1450.1 1379.1L1450.4 1380.1L1450.8 1381.3L1451.2 1382.4L1451.6 1383.4L1452.1 1384.4L1452.7 1385.2L1453.4 1385.9L1454.1 1386.4L1454.9 1386.8L1455.8 1386.9L1456.6 1386.7L1457.4 1386.4L1458.2 1385.8L1458.9 1385.0L1459.6 1384.2L1460.3 1383.4L1461.0 1382.7L1461.7 1382.2L1462.3 1381.9L1462.9 1381.9L1463.5 1382.2L1464.0 1382.7L1464.6 1383.5L1465.1 1384.4L1465.7 1385.3L1466.2 1386.3L1466.8 1387.3L1467.4 1388.3L1468.0 1389.3L1468.6 1390.2L1469.3 1391.0L1470.0 1391.8L1470.7 1392.4L1471.4 1392.9L1472.2 1393.1L1473.1 1393.0L1473.8 1392.8L1474.5 1392.3L1475.2 1391.7L1475.7 1391.0L1476.2 1390.2L1476.5 1389.4L1476.7 1388.5L1476.9 1387.6L1477.1 1386.7L1477.3 1385.7L1477.4 1384.7L1477.5 1383.7L1477.6 1382.7L1477.8 1381.6L1477.9 1380.5L1478.0 1379.5L1478.1 1378.4L1478.2 1377.3L1478.3 1376.3L1478.4 1375.2L1478.6 1374.2L1478.7 1373.2L1478.9 1372.2L1479.0 1371.2L1479.2 1370.2L1479.3 1369.2L1479.5 1368.2L1479.6 1367.2L1479.8 1366.2L1480.0 1365.3L1480.1 1364.3L1480.3 1363.3L1480.4 1362.3L1480.6 1361.3L1480.8 1360.3L1480.9 1359.3L1481.1 1358.3L1481.3 1357.4L1481.4 1356.4L1481.6 1355.4L1481.8 1354.4L1482.0 1353.4L1482.1 1352.4L1482.3 1351.4L1482.5 1350.4L1482.6 1349.4L1482.8 1348.4L1483.0 1347.4L1483.1 1346.4L1483.3 1345.3L1483.4 1344.3L1483.6 1343.3L1483.8 1342.2L1483.9 1341.2L1484.1 1340.2L1484.3 1339.2L1484.5 1338.3L1484.8 1337.3L1485.0 1336.4L1485.3 1335.5L1485.6 1334.7L1486.0 1333.9L1486.5 1333.1L1487.1 1332.3L1487.8 1331.6L1488.5 1330.9L1489.2 1330.2L1489.9 1329.5L1490.6 1328.8L1491.2 1328.0L1491.8 1327.2L1492.3 1326.3L1492.7 1325.4L1493.1 1324.5L1493.5 1323.6L1493.8 1322.6L1494.2 1321.7L1494.5 1320.7L1494.7 1319.7L1494.9 1318.8L1495.1 1317.8L1495.3 1316.8L1495.5 1315.8L1495.6 1314.8L1495.7 1313.8L1495.9 1312.8L1496.0 1311.8L1496.1 1310.8L1496.2 1309.8L1496.3 1308.8L1496.4 1307.8L1496.5 1306.8L1496.6 1305.8L1496.7 1304.8L1496.8 1303.8L1497.0 1302.8L1497.2 1301.8L1497.3 1300.8L1497.5 1299.8L1497.8 1298.8L1498.1 1297.7L1498.4 1296.6L1498.8 1295.7L1499.2 1294.8L1499.7 1294.2L1500.4 1293.8L1501.2 1293.6L1502.0 1293.5L1502.8 1293.6L1503.6 1293.6L1504.4 1293.6L1505.0 1293.4L1505.5 1293.0L1505.9 1292.4L1506.2 1291.7L1506.5 1290.7L1506.7 1289.7L1507.0 1288.6L1507.2 1287.4L1507.4 1286.2L1507.7 1285.0L1507.9 1283.8L1508.1 1282.6L1508.4 1281.5L1508.7 1280.3L1509.0 1279.1L1509.3 1278.0L1509.6 1276.9L1509.9 1275.9L1510.2 1275.0L1510.5 1274.4L1510.8 1274.1L1511.2 1274.0L1511.6 1274.3L1512.0 1274.8L1512.4 1275.6L1512.8 1276.5L1513.2 1277.5L1513.7 1278.6L1514.1 1279.7L1514.5 1280.8L1514.9 1281.8L1515.2 1282.8L1515.6 1283.8L1515.9 1284.7L1516.2 1285.6L1516.6 1286.6L1516.9 1287.5L1517.2 1288.5L1517.5 1289.4L1517.9 1290.4L1518.2 1291.3L1518.5 1292.3L1518.9 1293.2L1519.3 1294.1L1519.7 1295.0L1520.1 1295.9L1520.6 1296.8L1521.0 1297.7L1521.5 1298.6L1522.0 1299.5L1522.4 1300.4L1522.9 1301.3L1523.3 1302.2L1523.8 1303.1L1524.2 1304.0L1524.6 1304.9L1525.0 1305.8L1525.4 1306.7L1525.7 1307.7L1526.1 1308.6L1526.4 1309.5L1526.7 1310.5L1527.1 1311.4L1527.4 1312.4L1527.6 1313.4L1527.9 1314.3L1528.1 1315.3L1528.3 1316.3L1528.5 1317.2L1528.6 1318.2L1528.8 1319.2L1528.9 1320.2L1529.0 1321.2L1529.1 1322.2L1529.3 1323.2L1529.4 1324.2L1529.5 1325.2L1529.6 1326.2L1529.7 1327.2L1529.8 1328.2L1529.9 1329.2L1530.0 1330.2L1530.1 1331.2L1530.2 1332.2L1530.3 1333.2L1530.4 1334.2L1530.6 1335.1L1530.7 1336.2L1530.9 1337.2L1531.1 1338.3L1531.3 1339.5L1531.5 1340.6L1531.7 1341.8L1531.9 1343.0L1532.2 1344.0L1532.5 1344.9L1532.8 1345.6L1533.3 1346.1L1533.8 1346.2L1534.3 1346.1L1534.9 1345.7L1535.4 1345.1L1535.9 1344.4L1536.3 1343.5L1536.6 1342.6L1536.8 1341.7L1536.9 1340.8L1537.0 1339.8L1537.1 1338.8L1537.2 1337.7L1537.3 1336.7L1537.4 1335.6L1537.4 1334.6L1537.5 1333.6L1537.7 1332.5L1537.8 1331.5L1538.0 1330.4L1538.3 1329.3L1538.6 1328.3L1539.0 1327.3L1539.4 1326.5L1539.8 1325.8L1540.2 1325.5L1540.5 1325.4L1540.9 1325.6L1541.3 1326.1L1541.6 1326.8L1541.9 1327.7L1542.2 1328.8L1542.5 1329.9L1542.7 1331.1L1542.9 1332.3L1543.2 1333.4L1543.3 1334.6L1543.5 1335.6L1543.7 1336.7L1543.8 1337.7L1543.9 1338.7L1544.0 1339.7L1544.1 1340.7L1544.2 1341.7L1544.3 1342.7L1544.4 1343.7L1544.4 1344.7L1544.5 1345.7L1544.6 1346.7L1544.7 1347.7L1544.7 1348.7L1544.8 1349.7L1544.9 1350.7L1545.0 1351.7L1545.1 1352.7L1545.2 1353.7L1545.3 1354.7L1545.4 1355.7L1545.5 1356.7L1545.6 1357.7L1545.7 1358.7L1545.8 1359.6L1545.9 1360.6L1546.0 1361.6L1546.1 1362.6L1546.2 1363.6L1546.3 1364.6L1546.4 1365.6L1546.5 1366.6L1546.7 1367.6L1546.8 1368.6L1546.9 1369.6L1547.0 1370.6L1547.2 1371.6L1547.3 1372.6L1547.5 1373.6L1547.6 1374.5L1547.8 1375.5L1548.0 1376.5L1548.2 1377.5L1548.4 1378.5L1548.6 1379.4L1548.8 1380.4L1549.1 1381.4L1549.3 1382.4L1549.6 1383.3L1549.9 1384.3L1550.2 1385.3L1550.5 1386.2L1550.8 1387.2L1551.2 1388.1L1551.5 1389.1L1551.9 1390.1L1552.3 1391.1L1552.8 1392.0L1553.3 1393.0L1553.8 1393.9L1554.4 1394.7L1555.0 1395.4L1555.6 1395.9L1556.4 1396.3L1557.2 1396.5L1558.1 1396.7L1559.0 1396.8L1560.1 1396.9L1561.1 1397.0L1562.2 1397.0L1563.2 1397.1L1564.2 1397.3L1565.2 1397.5L1566.1 1397.8L1566.9 1398.2L1567.7 1398.7L1568.4 1399.4L1569.1 1400.1L1569.7 1401.0L1570.2 1401.8L1570.6 1402.7L1571.0 1403.6L1571.4 1404.5L1571.7 1405.4L1572.0 1406.4L1572.2 1407.4L1572.5 1408.4L1572.7 1409.4L1572.9 1410.4L1573.2 1411.4L1573.4 1412.3L1573.7 1413.3L1574.0 1414.3L1574.2 1415.3L1574.5 1416.3L1574.8 1417.2L1575.1 1418.2L1575.5 1419.2L1575.8 1420.2L1576.1 1421.1L1576.5 1422.0L1576.9 1422.9L1577.4 1423.8L1577.9 1424.7L1578.5 1425.5L1579.2 1426.2L1579.9 1426.8L1580.6 1427.1L1581.3 1427.2L1582.0 1427.0L1582.7 1426.5L1583.3 1425.8L1583.9 1425.0L1584.4 1424.1L1584.8 1423.2L1585.1 1422.2L1585.4 1421.3L1585.6 1420.4L1585.8 1419.4L1585.9 1418.4L1586.1 1417.4L1586.2 1416.4L1586.4 1415.4L1586.5 1414.4L1586.6 1413.4L1586.8 1412.4L1586.9 1411.3L1587.0 1410.3L1587.2 1409.3L1587.3 1408.3L1587.5 1407.3L1587.7 1406.3L1587.9 1405.3L1588.0 1404.3L1588.2 1403.3L1588.4 1402.3L1588.6 1401.3L1588.8 1400.3L1589.0 1399.3L1589.2 1398.3L1589.4 1397.3L1589.6 1396.3L1589.8 1395.4L1590.1 1394.4L1590.4 1393.5L1590.7 1392.6L1591.0 1391.6L1591.4 1390.8L1591.8 1389.9L1592.3 1389.0L1592.8 1388.2L1593.4 1387.4L1594.0 1386.6L1594.7 1385.8L1595.4 1385.1L1596.1 1384.3L1596.9 1383.6L1597.6 1382.9L1598.4 1382.3L1599.3 1381.6L1600.1 1381.0L1601.0 1380.5L1601.9 1380.1L1602.8 1379.9L1603.7 1379.9L1604.5 1380.0L1605.4 1380.3L1606.3 1380.7L1607.0 1381.3L1607.8 1381.9L1608.4 1382.6L1609.0 1383.4L1609.6 1384.2L1610.1 1385.0L1610.5 1385.9L1610.9 1386.8L1611.3 1387.7L1611.7 1388.7L1612.1 1389.6L1612.5 1390.6L1613.0 1391.6L1613.4 1392.5L1613.9 1393.4L1614.3 1394.3L1614.9 1395.2L1615.4 1396.1L1615.9 1397.0L1616.5 1397.9L1617.1 1398.8L1617.7 1399.7L1618.3 1400.6L1618.9 1401.4L1619.6 1402.2L1620.3 1403.0L1621.0 1403.6L1621.7 1404.2L1622.4 1404.7L1623.2 1405.2L1624.0 1405.5L1624.9 1405.8L1625.8 1406.1L1626.8 1406.3L1627.8 1406.5L1628.8 1406.6L1629.8 1406.8L1630.8 1407.0L1631.8 1407.2L1632.8 1407.5L1633.8 1407.7L1634.8 1408.0L1635.8 1408.3L1636.7 1408.5L1637.7 1408.7L1638.7 1408.8L1639.6 1408.8L1640.6 1408.7L1641.5 1408.5L1642.4 1408.2L1643.4 1407.8L1644.3 1407.5L1645.3 1407.1L1646.2 1406.8L1647.2 1406.5L1648.2 1406.3L1649.2 1406.1L1650.2 1406.0L1651.2 1405.9L1652.1 1405.7L1653.1 1405.5L1654.0 1405.3L1654.8 1404.9L1655.6 1404.5L1656.4 1403.9L1657.1 1403.3L1657.8 1402.5L1658.5 1401.8L1659.2 1400.9L1659.9 1400.1L1660.5 1399.3L1661.1 1398.4L1661.7 1397.5L1662.3 1396.6L1662.8 1395.7L1663.3 1394.7L1663.9 1393.8L1664.4 1392.9L1665.0 1392.1L1665.6 1391.4L1666.2 1390.9L1667.0 1390.4L1667.8 1390.0L1668.7 1389.8L1669.7 1389.6L1670.6 1389.6L1671.6 1389.6L1672.5 1389.9L1673.4 1390.3L1674.2 1390.8L1675.0 1391.4L1675.8 1392.1L1676.6 1392.8L1677.4 1393.4L1678.2 1393.9L1679.1 1394.2L1680.0 1394.4L1680.9 1394.4L1681.9 1394.3L1682.8 1394.0L1683.8 1393.8L1684.8 1393.5L1685.7 1393.1L1686.6 1392.7L1687.5 1392.3L1688.4 1391.8L1689.2 1391.2L1690.0 1390.7L1690.8 1390.0L1691.6 1389.4L1692.3 1388.7L1693.1 1388.0L1693.8 1387.3L1694.5 1386.5L1695.2 1385.7L1695.9 1384.9L1696.6 1384.1L1697.3 1383.3L1698.0 1382.6L1698.7 1381.9L1699.4 1381.3L1700.2 1380.9L1701.1 1380.5L1702.0 1380.3L1702.9 1380.1L1703.9 1379.9L1704.9 1379.8L1705.9 1379.7L1706.8 1379.4L1707.7 1379.1L1708.5 1378.7L1709.2 1378.1L1709.9 1377.5L1710.6 1376.7L1711.2 1375.9L1711.9 1375.1L1712.5 1374.2L1713.2 1373.4L1714.0 1372.6L1714.7 1372.0L1715.5 1371.5L1716.3 1371.2L1717.0 1371.0L1717.8 1371.2L1718.6 1371.5L1719.3 1372.1L1720.1 1372.7L1720.8 1373.5L1721.6 1374.2L1722.4 1374.8L1723.2 1375.4L1724.1 1375.9L1725.0 1376.3L1726.0 1376.6L1726.9 1376.8L1727.9 1377.1L1728.9 1377.3L1729.9 1377.6L1730.9 1377.8L1731.8 1378.1L1732.7 1378.4L1733.6 1378.8L1734.5 1379.3L1735.4 1379.8L1736.2 1380.3L1737.0 1380.9L1737.8 1381.5L1738.6 1382.1L1739.4 1382.8L1740.2 1383.4L1741.0 1383.9L1741.9 1384.5L1742.7 1384.9L1743.6 1385.4L1744.5 1385.8L1745.4 1386.2L1746.3 1386.6L1747.3 1387.0L1748.2 1387.4L1749.1 1387.7L1749.8 1387.9L1750.3 1388.1L1750.8 1388.2"/>
</g>
<text transform="translate(147.2 1601) scale(1.0 1.126)" font-size="69" text-anchor="middle" fill="#242424">4000</text>
<text transform="translate(376.3 1601) scale(1.0 1.126)" font-size="69" text-anchor="middle" fill="#242424">3500</text>
<text transform="translate(605.4 1601) scale(1.0 1.126)" font-size="69" text-anchor="middle" fill="#242424">3000</text>
<text transform="translate(834.4 1601) scale(1.0 1.126)" font-size="69" text-anchor="middle" fill="#242424">2500</text>
<text transform="translate(1063.5 1601) scale(1.0 1.126)" font-size="69" text-anchor="middle" fill="#242424">2000</text>
<text transform="translate(1292.6 1601) scale(1.0 1.126)" font-size="69" text-anchor="middle" fill="#242424">1500</text>
<text transform="translate(1521.7 1601) scale(1.0 1.126)" font-size="69" text-anchor="middle" fill="#242424">1000</text>
<text transform="translate(1750.8 1601) scale(1.0 1.126)" font-size="69" text-anchor="middle" fill="#242424">500</text>
<text transform="translate(653.5 1731.6) scale(1.0 1.2)" font-size="74.2" text-anchor="start" fill="#242424">Wavelength</text>
<text transform="translate(1043.5 1731.6) scale(1.0 1.2)" font-size="74.2" text-anchor="start" fill="#242424">(cm</text>
<text transform="translate(1168 1691) scale(1.2 1.22)" font-size="58" text-anchor="start" fill="#242424">−</text>
<text transform="translate(1206.5 1691) scale(1.0 1.22)" font-size="58" text-anchor="start" fill="#242424">1</text>
<text transform="translate(1237.5 1731.6) scale(1.0 1.2)" font-size="74.2" text-anchor="start" fill="#242424">)</text>
<text transform="translate(110.7 1085.5) scale(1.0 1.085) rotate(-90)" font-size="79" text-anchor="start" fill="#242424">Absorbance (a.u.)</text>
<text transform="translate(1765 554.8) scale(0.99 1.11)" font-size="70" text-anchor="start" fill="#000">MF−IS</text>
<text transform="translate(1775 828.6) scale(1.0 1.11)" font-size="70" text-anchor="start" fill="#000">MF</text>
<text transform="translate(1774.5 1067.7) scale(1.04 1.11)" font-size="70" text-anchor="start" fill="#000">M</text>
<text transform="translate(1775 1434) scale(1.0 1.11)" font-size="70" text-anchor="start" fill="#000">Fuc</text>
<text transform="translate(493 379) scale(1.0 1.11) rotate(-90)" font-size="70" text-anchor="start" fill="#000">O<tspan font-size="77" dx="-1.9" dy="2.3">−</tspan><tspan dx="-1.9" dy="-2.3">H</tspan></text>
<text transform="translate(1263 378) scale(1.0 1.11) rotate(-90)" font-size="70" text-anchor="start" fill="#000">C=O</text>
<text transform="translate(1437 378.6) scale(1.0 1.11) rotate(-90)" font-size="70" text-anchor="start" fill="#000">S<tspan font-size="77" dx="-1.9" dy="2.3">−</tspan><tspan dx="-1.9" dy="-2.3">O</tspan></text>
<text transform="translate(1526 378) scale(1.0 1.11) rotate(-90)" font-size="70" text-anchor="start" fill="#000">C<tspan font-size="77" dx="-1.9" dy="2.3">−</tspan><tspan dx="-1.9" dy="-2.3">O</tspan><tspan font-size="77" dx="-1.9" dy="2.3">−</tspan><tspan dx="-1.9" dy="-2.3">SO</tspan><tspan font-size="54" dy="29">3</tspan></text>
<text transform="translate(1746 379) scale(1.0 1.11) rotate(-90)" font-size="70" text-anchor="start" fill="#000">Fe<tspan font-size="77" dx="-1.9" dy="2.3">−</tspan><tspan dx="-1.9" dy="-2.3">O</tspan></text>
</svg></body></html>
